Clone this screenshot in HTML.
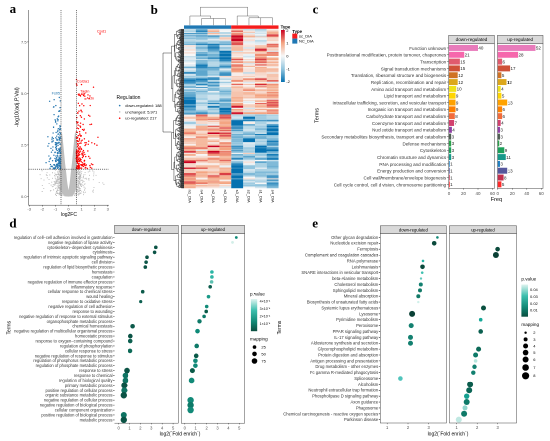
<!DOCTYPE html>
<html><head><meta charset="utf-8"><title>Figure</title>
<style>html,body{margin:0;padding:0;background:#fff}
#clip{position:relative;width:550px;height:441px;overflow:hidden;background:#fff}
#w{position:absolute;left:0;top:0;width:1100px;height:882px;transform:scale(.5);transform-origin:0 0;will-change:transform;background:#fff}
svg{display:block}</style></head><body><div id="clip"><div id="w">
<svg width="1100" height="882" viewBox="0 0 550 441" font-family="Liberation Sans, Arial, sans-serif">
<text x="9.6" y="13.2" font-family="Liberation Serif, serif" font-weight="bold" font-size="13" fill="#000">a</text>
<text x="150.6" y="14" font-family="Liberation Serif, serif" font-weight="bold" font-size="13" fill="#000">b</text>
<text x="312.6" y="13.3" font-family="Liberation Serif, serif" font-weight="bold" font-size="13" fill="#000">c</text>
<text x="9.4" y="227.3" font-family="Liberation Serif, serif" font-weight="bold" font-size="13" fill="#000">d</text>
<text x="312.3" y="227.3" font-family="Liberation Serif, serif" font-weight="bold" font-size="13" fill="#000">e</text>
<g fill="#bebebe">
<polygon points="64.57,196.4 62.61,193.31 61.3,190.22 60.38,187.13 59.85,184.04 59.59,179.92 59.59,175.8 60.12,169.62 60.51,163.44 60.64,155.2 60.64,146.96 60.77,138.72 61.16,132.54 61.95,132.54 62.74,138.72 63.52,146.96 64.31,155.2 65.09,163.44 65.88,169.62 66.53,175.8 66.93,179.92 67.45,184.04 67.98,187.13 68.5,190.22 68.5,193.31 68.5,196.4"/>
<polygon points="72.43,196.4 74.39,193.31 75.7,190.22 76.62,187.13 77.15,184.04 77.41,179.92 77.41,175.8 76.88,169.62 76.49,163.44 76.36,155.2 76.36,146.96 76.23,138.72 75.84,132.54 75.05,132.54 74.26,138.72 73.48,146.96 72.69,155.2 71.91,163.44 71.12,169.62 70.47,175.8 70.07,179.92 69.55,184.04 69.02,187.13 68.5,190.22 68.5,193.31 68.5,196.4"/>
<ellipse cx="68.5" cy="193.6" rx="5" ry="3"/>
<path d="M59.65 187.03h.9v.9h-.9zM59.17 174.22h.9v.9h-.9zM58.49 185.95h.9v.9h-.9zM75.54 193.16h.9v.9h-.9zM61.82 193.57h.9v.9h-.9zM59.33 180.81h.9v.9h-.9zM57.03 179.13h.9v.9h-.9zM58.71 170.23h.9v.9h-.9zM59.27 181.04h.9v.9h-.9zM76.37 192.34h.9v.9h-.9zM56.67 180.94h.9v.9h-.9zM59.17 190.53h.9v.9h-.9zM56 181.27h.9v.9h-.9zM78.81 182.59h.9v.9h-.9zM80.09 175.36h.9v.9h-.9zM58.91 187.65h.9v.9h-.9zM57.47 177.37h.9v.9h-.9zM78.43 182.62h.9v.9h-.9zM78.28 176.59h.9v.9h-.9zM59.03 182.19h.9v.9h-.9zM56.84 175.87h.9v.9h-.9zM58.81 170.6h.9v.9h-.9zM78.83 175.68h.9v.9h-.9zM79.5 182.58h.9v.9h-.9zM59.72 193.6h.9v.9h-.9zM58.48 178.27h.9v.9h-.9zM82.88 176.54h.9v.9h-.9zM84.53 174.21h.9v.9h-.9zM80.58 176.92h.9v.9h-.9zM61.19 191.04h.9v.9h-.9zM59.59 182.66h.9v.9h-.9zM77.58 188.99h.9v.9h-.9zM79.82 171.76h.9v.9h-.9zM58.15 181.22h.9v.9h-.9zM79.57 174.27h.9v.9h-.9zM85.55 177.79h.9v.9h-.9zM58.59 170.71h.9v.9h-.9zM58.77 178.41h.9v.9h-.9zM59.76 182.88h.9v.9h-.9zM77.31 184.58h.9v.9h-.9zM81.63 179.67h.9v.9h-.9zM58.45 182.1h.9v.9h-.9zM79.49 183.61h.9v.9h-.9zM78.94 182.97h.9v.9h-.9zM59.8 193.77h.9v.9h-.9zM61.98 192.54h.9v.9h-.9zM55.52 192.73h.9v.9h-.9zM57.99 179.57h.9v.9h-.9zM78.47 172.86h.9v.9h-.9zM78.51 186.42h.9v.9h-.9zM54.5 183.16h.9v.9h-.9zM84.58 183.37h.9v.9h-.9zM58.33 187.34h.9v.9h-.9zM59.22 188.55h.9v.9h-.9zM56.36 182.07h.9v.9h-.9zM60.81 191.59h.9v.9h-.9zM83.11 175.85h.9v.9h-.9zM78.18 177.44h.9v.9h-.9zM58.46 182.02h.9v.9h-.9zM78.92 181.42h.9v.9h-.9zM57.76 178.98h.9v.9h-.9zM54.6 176.32h.9v.9h-.9zM76.13 190.22h.9v.9h-.9zM74.09 194.65h.9v.9h-.9zM57.25 183.21h.9v.9h-.9zM83.91 183.85h.9v.9h-.9zM78.15 170.78h.9v.9h-.9zM77.84 183.27h.9v.9h-.9zM57.1 190.11h.9v.9h-.9zM59.14 174.78h.9v.9h-.9zM55.51 173.88h.9v.9h-.9zM80.11 176.05h.9v.9h-.9zM77.76 172.48h.9v.9h-.9zM79.83 174.75h.9v.9h-.9zM59.54 183.44h.9v.9h-.9zM60.35 192.1h.9v.9h-.9zM77.96 180.16h.9v.9h-.9zM78.78 174.09h.9v.9h-.9zM79.43 178.45h.9v.9h-.9zM60.55 194.82h.9v.9h-.9zM54.37 181.81h.9v.9h-.9zM57.38 174.1h.9v.9h-.9zM62.89 194.65h.9v.9h-.9zM79.45 180.27h.9v.9h-.9zM55.3 181.35h.9v.9h-.9zM78.87 172.25h.9v.9h-.9zM56.3 174.07h.9v.9h-.9zM74.09 194.89h.9v.9h-.9zM59.36 175.37h.9v.9h-.9zM60.31 191.72h.9v.9h-.9zM78.8 181.04h.9v.9h-.9zM56.55 182.95h.9v.9h-.9zM59.84 172.63h.9v.9h-.9zM79.7 175.48h.9v.9h-.9zM55.94 180.91h.9v.9h-.9zM58.36 182.35h.9v.9h-.9zM82.63 177.53h.9v.9h-.9zM59.48 182.3h.9v.9h-.9zM82.8 177.37h.9v.9h-.9zM78.56 190.15h.9v.9h-.9zM60.02 191.84h.9v.9h-.9zM78.98 178.09h.9v.9h-.9zM75.58 193.49h.9v.9h-.9zM81.21 191.39h.9v.9h-.9zM59.93 191.69h.9v.9h-.9zM77.4 170.84h.9v.9h-.9zM54.43 172.58h.9v.9h-.9zM75.63 191.21h.9v.9h-.9zM77.91 169.77h.9v.9h-.9zM78.22 187.17h.9v.9h-.9zM73.92 194.87h.9v.9h-.9zM76.87 186.83h.9v.9h-.9zM54.84 182.18h.9v.9h-.9zM56.87 189.48h.9v.9h-.9zM79.29 193.21h.9v.9h-.9zM59.52 188.41h.9v.9h-.9zM80.25 174.26h.9v.9h-.9zM79.26 182.11h.9v.9h-.9zM58.65 177.33h.9v.9h-.9zM56.4 190.65h.9v.9h-.9zM57.33 188.45h.9v.9h-.9zM58.69 193.21h.9v.9h-.9zM60.31 193.65h.9v.9h-.9zM78.08 181.13h.9v.9h-.9zM57.5 179.36h.9v.9h-.9zM61.93 192.55h.9v.9h-.9zM60.08 188.63h.9v.9h-.9zM58.11 187.52h.9v.9h-.9zM59.94 187.9h.9v.9h-.9zM54.95 169.76h.9v.9h-.9zM61.51 194.97h.9v.9h-.9zM77.35 183.86h.9v.9h-.9zM79.84 178.46h.9v.9h-.9zM60.72 189.83h.9v.9h-.9zM58.08 186.55h.9v.9h-.9zM61.52 193.97h.9v.9h-.9zM74.2 195h.9v.9h-.9zM77.82 178.24h.9v.9h-.9zM80.77 172.95h.9v.9h-.9zM60.6 194.21h.9v.9h-.9zM77.98 191.31h.9v.9h-.9zM76.72 186.9h.9v.9h-.9zM76.41 189.08h.9v.9h-.9zM58.52 186.74h.9v.9h-.9zM59.74 183.15h.9v.9h-.9zM57.5 193.03h.9v.9h-.9zM60 191.67h.9v.9h-.9zM58.09 179.16h.9v.9h-.9zM57.11 180.29h.9v.9h-.9zM80.97 172.73h.9v.9h-.9zM80.13 175.69h.9v.9h-.9zM55.86 178.81h.9v.9h-.9zM77.8 174.13h.9v.9h-.9zM56.71 191.78h.9v.9h-.9zM59.01 174.09h.9v.9h-.9zM59.16 178.96h.9v.9h-.9zM80.65 185.67h.9v.9h-.9zM58.14 179.24h.9v.9h-.9zM58.71 182.77h.9v.9h-.9zM59.68 171.36h.9v.9h-.9zM59.5 178.39h.9v.9h-.9zM80.57 174.53h.9v.9h-.9zM60.52 189.32h.9v.9h-.9zM81.32 183.52h.9v.9h-.9zM74.77 193.39h.9v.9h-.9zM55.62 178.82h.9v.9h-.9zM77.53 179.93h.9v.9h-.9zM55.75 187.53h.9v.9h-.9zM56.01 195.05h.9v.9h-.9zM61.7 192.81h.9v.9h-.9zM78.01 177.97h.9v.9h-.9zM57.53 183.37h.9v.9h-.9zM59.64 169.79h.9v.9h-.9zM78.33 183.19h.9v.9h-.9zM80.03 183.55h.9v.9h-.9zM59.83 171.77h.9v.9h-.9zM60.48 193.45h.9v.9h-.9zM57.28 170.84h.9v.9h-.9zM80.81 179.83h.9v.9h-.9zM78.88 189.41h.9v.9h-.9zM56.7 185.22h.9v.9h-.9zM77.24 183.76h.9v.9h-.9zM78.81 176.65h.9v.9h-.9zM57.68 173.73h.9v.9h-.9zM77.42 187.01h.9v.9h-.9zM58.72 171.52h.9v.9h-.9zM77.12 172.15h.9v.9h-.9zM59.02 185.32h.9v.9h-.9zM77 186.08h.9v.9h-.9zM55.03 188.14h.9v.9h-.9zM78.33 173.88h.9v.9h-.9zM78.17 170.37h.9v.9h-.9zM59 182.21h.9v.9h-.9zM54.91 184.36h.9v.9h-.9zM83.16 174.46h.9v.9h-.9zM56.13 181.23h.9v.9h-.9zM78.48 194.1h.9v.9h-.9zM78.87 178.77h.9v.9h-.9zM58.35 182.87h.9v.9h-.9zM78.95 188.12h.9v.9h-.9zM79.18 176.34h.9v.9h-.9zM78.4 182.93h.9v.9h-.9zM59.15 192.29h.9v.9h-.9zM58.16 174.47h.9v.9h-.9zM80.32 183.71h.9v.9h-.9zM61.88 191.78h.9v.9h-.9zM60.27 189.08h.9v.9h-.9zM77.06 189.21h.9v.9h-.9zM56.06 174.53h.9v.9h-.9zM80.15 184.74h.9v.9h-.9zM57.72 176.16h.9v.9h-.9zM75.93 193.77h.9v.9h-.9zM79.76 180.58h.9v.9h-.9zM57.17 179.16h.9v.9h-.9zM59.36 192.99h.9v.9h-.9zM79.86 184.25h.9v.9h-.9zM57.67 173.52h.9v.9h-.9zM79.57 175.7h.9v.9h-.9zM79.83 170.44h.9v.9h-.9zM77.05 171.5h.9v.9h-.9zM59.63 170.33h.9v.9h-.9zM59.81 191.45h.9v.9h-.9zM81.31 171.13h.9v.9h-.9zM61.35 195.33h.9v.9h-.9zM59.55 189.38h.9v.9h-.9zM76.86 192.07h.9v.9h-.9zM77.74 181.77h.9v.9h-.9zM61.43 193.56h.9v.9h-.9zM60.05 185.38h.9v.9h-.9zM77.44 181.53h.9v.9h-.9zM79.98 188.2h.9v.9h-.9zM55.08 183.13h.9v.9h-.9zM55.31 181.28h.9v.9h-.9zM59.37 187.45h.9v.9h-.9zM77.45 190.37h.9v.9h-.9zM78.09 184.44h.9v.9h-.9zM59.56 189.53h.9v.9h-.9zM81.13 186.04h.9v.9h-.9zM75.92 190.27h.9v.9h-.9zM57.85 190.09h.9v.9h-.9zM60.2 187.34h.9v.9h-.9zM79.43 175.79h.9v.9h-.9zM79.44 192.56h.9v.9h-.9zM55.86 182.88h.9v.9h-.9zM59.15 170.94h.9v.9h-.9zM63.07 194.76h.9v.9h-.9zM58.69 184.67h.9v.9h-.9zM80.29 177.04h.9v.9h-.9zM57.25 176.5h.9v.9h-.9zM76.62 190.59h.9v.9h-.9zM78.04 194.55h.9v.9h-.9zM52.77 183.98h.9v.9h-.9zM75.76 195.3h.9v.9h-.9zM58.4 172.58h.9v.9h-.9zM78.23 185.58h.9v.9h-.9zM76.65 194.1h.9v.9h-.9zM76.62 190.33h.9v.9h-.9zM57.32 172.27h.9v.9h-.9zM57.73 179.1h.9v.9h-.9zM58.7 194.32h.9v.9h-.9z" fill="#bdbdbd"/>
<path d="M58.7 192.79h.9v.9h-.9zM89.39 170.76h.9v.9h-.9zM88.53 179.62h.9v.9h-.9zM54.17 175.15h.9v.9h-.9zM89.09 174.82h.9v.9h-.9zM56.06 191.06h.9v.9h-.9zM98.75 182.07h.9v.9h-.9zM51.27 181.69h.9v.9h-.9zM79.82 178.28h.9v.9h-.9zM84.98 191.74h.9v.9h-.9zM76.53 189.19h.9v.9h-.9zM103.46 183.93h.9v.9h-.9zM41.73 191.05h.9v.9h-.9zM46.63 175.06h.9v.9h-.9zM78.66 188.06h.9v.9h-.9zM84.51 178.28h.9v.9h-.9zM82.69 185.1h.9v.9h-.9zM50.45 189.95h.9v.9h-.9zM54.85 177.91h.9v.9h-.9zM55.11 194.18h.9v.9h-.9zM52.84 185.7h.9v.9h-.9zM39.67 174.2h.9v.9h-.9zM57.88 174.1h.9v.9h-.9zM83.53 192.41h.9v.9h-.9zM49.95 190.52h.9v.9h-.9zM57.68 187.64h.9v.9h-.9zM56.65 193.07h.9v.9h-.9zM78.59 175.92h.9v.9h-.9zM59.46 193.89h.9v.9h-.9zM50.66 184.68h.9v.9h-.9zM81.56 184.33h.9v.9h-.9zM83 191.53h.9v.9h-.9zM77.76 185.32h.9v.9h-.9zM54.89 174.4h.9v.9h-.9zM78.83 171.42h.9v.9h-.9zM79.18 190.34h.9v.9h-.9zM80.26 190.09h.9v.9h-.9zM58.05 173.64h.9v.9h-.9zM78.22 193.26h.9v.9h-.9zM86.21 178.61h.9v.9h-.9zM79.17 177.33h.9v.9h-.9zM52.08 172.31h.9v.9h-.9zM48.57 178.99h.9v.9h-.9zM82.48 180.36h.9v.9h-.9zM75.58 193.31h.9v.9h-.9zM92.18 190.65h.9v.9h-.9zM79.24 172.49h.9v.9h-.9zM52.14 177.83h.9v.9h-.9zM57.38 186.33h.9v.9h-.9zM77.72 173.35h.9v.9h-.9zM59.44 188.18h.9v.9h-.9zM58.07 184.72h.9v.9h-.9zM79.97 189.92h.9v.9h-.9zM83.1 194.25h.9v.9h-.9zM78.97 179.05h.9v.9h-.9zM45.87 174.3h.9v.9h-.9zM79.76 184.44h.9v.9h-.9zM49.34 174.51h.9v.9h-.9zM78.53 191.12h.9v.9h-.9zM40.7 178.2h.9v.9h-.9zM77.22 187.22h.9v.9h-.9zM46.87 177.38h.9v.9h-.9zM92.88 179.25h.9v.9h-.9zM60.42 188.11h.9v.9h-.9zM84.65 171.97h.9v.9h-.9zM102.31 182.47h.9v.9h-.9zM53.19 189.42h.9v.9h-.9zM79.12 187.46h.9v.9h-.9zM51.89 186.24h.9v.9h-.9zM84.73 187.81h.9v.9h-.9zM93.2 175.35h.9v.9h-.9zM48.67 183.14h.9v.9h-.9zM43.33 188.11h.9v.9h-.9zM59.57 185.16h.9v.9h-.9zM77.35 190.73h.9v.9h-.9zM83.62 186.68h.9v.9h-.9zM89.14 170.46h.9v.9h-.9zM46.61 172.2h.9v.9h-.9zM59.23 187.15h.9v.9h-.9zM57.67 178.87h.9v.9h-.9zM74.66 193.16h.9v.9h-.9zM83.54 181.14h.9v.9h-.9zM92.25 170.43h.9v.9h-.9zM80.42 192.95h.9v.9h-.9zM43.52 179.64h.9v.9h-.9zM55.81 180.04h.9v.9h-.9zM59.05 182.16h.9v.9h-.9zM84.09 189.75h.9v.9h-.9zM92.79 191.75h.9v.9h-.9zM56.69 181.53h.9v.9h-.9zM53.72 184.08h.9v.9h-.9zM53.76 181.03h.9v.9h-.9zM41.86 185.07h.9v.9h-.9zM79.7 192.35h.9v.9h-.9zM88.46 178.14h.9v.9h-.9zM88.23 178.42h.9v.9h-.9zM87.8 171.47h.9v.9h-.9zM57.01 177.55h.9v.9h-.9zM41.61 170.31h.9v.9h-.9zM93.51 187.03h.9v.9h-.9zM56.45 192.23h.9v.9h-.9zM82.22 181.8h.9v.9h-.9zM93.37 173.53h.9v.9h-.9zM84.21 189.33h.9v.9h-.9zM92.98 189.6h.9v.9h-.9zM58.21 184.73h.9v.9h-.9zM93.48 171.56h.9v.9h-.9zM95.59 174.83h.9v.9h-.9zM53.97 184.66h.9v.9h-.9zM59.86 190.1h.9v.9h-.9z" fill="#b4b4b4"/>
</g>
<g fill="#2878b0"><circle cx="60.22" cy="168.35" r=".7"/><circle cx="59.92" cy="144.16" r=".7"/><circle cx="60.51" cy="138.14" r=".7"/><circle cx="56.9" cy="165.37" r=".7"/><circle cx="60.39" cy="168.09" r=".7"/><circle cx="53.71" cy="167.98" r=".7"/><circle cx="59.68" cy="132.27" r=".7"/><circle cx="56.33" cy="149.55" r=".7"/><circle cx="54.06" cy="114.67" r=".7"/><circle cx="58.6" cy="137.22" r=".7"/><circle cx="59.8" cy="161.92" r=".7"/><circle cx="50.02" cy="168.32" r=".7"/><circle cx="53.87" cy="106.88" r=".7"/><circle cx="55.64" cy="166.85" r=".7"/><circle cx="58" cy="143.45" r=".7"/><circle cx="54.95" cy="165.54" r=".7"/><circle cx="59.21" cy="142.44" r=".7"/><circle cx="59.5" cy="158.64" r=".7"/><circle cx="50.6" cy="158.08" r=".7"/><circle cx="55.54" cy="167.93" r=".7"/><circle cx="53.56" cy="107.11" r=".7"/><circle cx="58.03" cy="145.48" r=".7"/><circle cx="55.54" cy="160.47" r=".7"/><circle cx="60.5" cy="129.14" r=".7"/><circle cx="60.23" cy="150.38" r=".7"/><circle cx="60.45" cy="152.91" r=".7"/><circle cx="55.64" cy="147.71" r=".7"/><circle cx="56.81" cy="123.91" r=".7"/><circle cx="58.51" cy="160.49" r=".7"/><circle cx="59.3" cy="150.12" r=".7"/><circle cx="60.4" cy="133.46" r=".7"/><circle cx="60.26" cy="158.2" r=".7"/><circle cx="53.35" cy="138.61" r=".7"/><circle cx="47.97" cy="146.09" r=".7"/><circle cx="57.25" cy="150.57" r=".7"/><circle cx="54.5" cy="164.75" r=".7"/><circle cx="59.32" cy="97.49" r=".7"/><circle cx="50.47" cy="164.54" r=".7"/><circle cx="57.73" cy="131.72" r=".7"/><circle cx="60.2" cy="147.99" r=".7"/><circle cx="60.26" cy="159.02" r=".7"/><circle cx="49.64" cy="101.28" r=".7"/><circle cx="58.3" cy="134" r=".7"/><circle cx="58.73" cy="142.48" r=".7"/><circle cx="58.55" cy="159.91" r=".7"/><circle cx="59.9" cy="148.93" r=".7"/><circle cx="48.9" cy="143.55" r=".7"/><circle cx="57.38" cy="165.71" r=".7"/><circle cx="56.77" cy="139.11" r=".7"/><circle cx="57.53" cy="168.32" r=".7"/><circle cx="52.67" cy="150.22" r=".7"/><circle cx="57.52" cy="153.8" r=".7"/><circle cx="58.31" cy="159.15" r=".7"/><circle cx="59.4" cy="139.13" r=".7"/><circle cx="59.14" cy="162.44" r=".7"/><circle cx="55.76" cy="142.71" r=".7"/><circle cx="59.42" cy="150.96" r=".7"/><circle cx="53.12" cy="133.02" r=".7"/><circle cx="55.43" cy="144.47" r=".7"/><circle cx="56.74" cy="136.14" r=".7"/><circle cx="59.62" cy="158.17" r=".7"/><circle cx="49.16" cy="161.5" r=".7"/><circle cx="56.73" cy="164.58" r=".7"/><circle cx="60.04" cy="163.61" r=".7"/><circle cx="59.33" cy="165.07" r=".7"/><circle cx="59.45" cy="160.12" r=".7"/><circle cx="51.9" cy="166.23" r=".7"/><circle cx="52.59" cy="160.72" r=".7"/><circle cx="60.59" cy="153.15" r=".7"/><circle cx="58.02" cy="119.6" r=".7"/><circle cx="46.08" cy="162.73" r=".7"/><circle cx="60.56" cy="160.16" r=".7"/><circle cx="55.68" cy="161.55" r=".7"/><circle cx="59.66" cy="169.07" r=".7"/><circle cx="55.13" cy="119.86" r=".7"/><circle cx="56.46" cy="146.41" r=".7"/><circle cx="55.64" cy="121.04" r=".7"/><circle cx="52.01" cy="141.99" r=".7"/><circle cx="57.06" cy="142.78" r=".7"/><circle cx="59.9" cy="162.52" r=".7"/><circle cx="58.59" cy="165.79" r=".7"/><circle cx="56.17" cy="161.46" r=".7"/><circle cx="59.32" cy="111.24" r=".7"/><circle cx="55.88" cy="156.05" r=".7"/><circle cx="53.76" cy="164.83" r=".7"/><circle cx="60.56" cy="152.23" r=".7"/><circle cx="57.29" cy="118.85" r=".7"/><circle cx="52.14" cy="141.34" r=".7"/><circle cx="58.76" cy="111.3" r=".7"/><circle cx="54.31" cy="168.93" r=".7"/><circle cx="60.1" cy="107.72" r=".7"/><circle cx="59.73" cy="161.76" r=".7"/><circle cx="47.9" cy="136.77" r=".7"/><circle cx="59.07" cy="163.47" r=".7"/><circle cx="57.87" cy="120.84" r=".7"/><circle cx="58.27" cy="163.3" r=".7"/><circle cx="55.05" cy="168.79" r=".7"/><circle cx="59.05" cy="157.31" r=".7"/><circle cx="58.04" cy="134.31" r=".7"/><circle cx="58.01" cy="163.98" r=".7"/><circle cx="54.14" cy="99.72" r=".7"/><circle cx="56.53" cy="144.7" r=".7"/><circle cx="58.86" cy="161.72" r=".7"/><circle cx="60.36" cy="167.57" r=".7"/><circle cx="55.83" cy="105.6" r=".7"/><circle cx="57.05" cy="140.28" r=".7"/><circle cx="59.34" cy="166.23" r=".7"/><circle cx="48.92" cy="156.03" r=".7"/><circle cx="59.94" cy="153.24" r=".7"/><circle cx="60.29" cy="100.94" r=".7"/><circle cx="59.7" cy="127.97" r=".7"/><circle cx="55.42" cy="142.74" r=".7"/><circle cx="59.94" cy="125.81" r=".7"/><circle cx="53.31" cy="140.97" r=".7"/><circle cx="58.3" cy="128.37" r=".7"/><circle cx="56.13" cy="132.47" r=".7"/><circle cx="57.88" cy="130.24" r=".7"/><circle cx="59.5" cy="129.8" r=".7"/><circle cx="55.77" cy="137.84" r=".7"/><circle cx="57.91" cy="139.96" r=".7"/><circle cx="53.56" cy="127.06" r=".7"/><circle cx="56.62" cy="157.8" r=".7"/><circle cx="58.15" cy="159.27" r=".7"/><circle cx="60.28" cy="144.06" r=".7"/><circle cx="59.85" cy="110.67" r=".7"/><circle cx="58.82" cy="159.91" r=".7"/><circle cx="57.65" cy="166.91" r=".7"/><circle cx="49.91" cy="159.1" r=".7"/><circle cx="58.97" cy="149.73" r=".7"/><circle cx="56.35" cy="146.72" r=".7"/><circle cx="60.37" cy="163.15" r=".7"/><circle cx="57.15" cy="160.28" r=".7"/><circle cx="52.93" cy="146.96" r=".7"/><circle cx="58.44" cy="163.92" r=".7"/><circle cx="59.62" cy="129.64" r=".7"/><circle cx="57.72" cy="155.95" r=".7"/><circle cx="55.93" cy="144.99" r=".7"/><circle cx="52.3" cy="166.77" r=".7"/><circle cx="56.62" cy="148.73" r=".7"/><circle cx="58.09" cy="160.13" r=".7"/><circle cx="60.34" cy="163.04" r=".7"/><circle cx="55.62" cy="122.13" r=".7"/><circle cx="60.18" cy="166" r=".7"/><circle cx="53.91" cy="155.22" r=".7"/><circle cx="57.47" cy="152.7" r=".7"/><circle cx="51.45" cy="152.15" r=".7"/><circle cx="59.46" cy="138.17" r=".7"/><circle cx="57.31" cy="164.58" r=".7"/><circle cx="59.9" cy="135.05" r=".7"/><circle cx="56.18" cy="159.25" r=".7"/><circle cx="59.26" cy="151.48" r=".7"/><circle cx="58.49" cy="153.06" r=".7"/><circle cx="59.82" cy="140.19" r=".7"/><circle cx="56.71" cy="157.7" r=".7"/><circle cx="60.47" cy="168.67" r=".7"/><circle cx="60.2" cy="126.63" r=".7"/><circle cx="55.12" cy="152.16" r=".7"/><circle cx="59.77" cy="165.19" r=".7"/><circle cx="60.12" cy="155.38" r=".7"/><circle cx="56.77" cy="166.65" r=".7"/><circle cx="54.96" cy="158.46" r=".7"/><circle cx="50.97" cy="148.41" r=".7"/><circle cx="59.08" cy="160.6" r=".7"/><circle cx="60.44" cy="161.75" r=".7"/><circle cx="59" cy="160.42" r=".7"/><circle cx="59.05" cy="151.68" r=".7"/><circle cx="58.68" cy="116.08" r=".7"/><circle cx="58.16" cy="163.35" r=".7"/><circle cx="59.87" cy="165.98" r=".7"/><circle cx="60.07" cy="137.05" r=".7"/><circle cx="57.56" cy="156.1" r=".7"/><circle cx="57.38" cy="155.79" r=".7"/><circle cx="60.2" cy="156.12" r=".7"/><circle cx="54.48" cy="167.98" r=".7"/><circle cx="54.99" cy="152.61" r=".7"/><circle cx="58.15" cy="167.61" r=".7"/><circle cx="58.77" cy="149.01" r=".7"/><circle cx="56.57" cy="165.11" r=".7"/><circle cx="51.93" cy="139.12" r=".7"/><circle cx="60.5" cy="166.98" r=".7"/><circle cx="56.64" cy="143.35" r=".7"/><circle cx="56.67" cy="164.29" r=".7"/><circle cx="58.11" cy="116.83" r=".7"/><circle cx="51.04" cy="166.48" r=".7"/><circle cx="53.34" cy="168.86" r=".7"/><circle cx="59.3" cy="165.36" r=".7"/><circle cx="52.3" cy="137.32" r=".7"/><circle cx="60.51" cy="163.95" r=".7"/></g>
<g fill="#f00"><circle cx="79.99" cy="168.61" r=".7"/><circle cx="88.26" cy="144.31" r=".7"/><circle cx="79.87" cy="149.35" r=".7"/><circle cx="84.36" cy="118.98" r=".7"/><circle cx="81.91" cy="153.44" r=".7"/><circle cx="76.68" cy="154.25" r=".7"/><circle cx="80.88" cy="136.35" r=".7"/><circle cx="77.2" cy="138.15" r=".7"/><circle cx="80.52" cy="126.84" r=".7"/><circle cx="79.16" cy="166.71" r=".7"/><circle cx="81.98" cy="104" r=".7"/><circle cx="76.4" cy="153.15" r=".7"/><circle cx="97.95" cy="137.29" r=".7"/><circle cx="77.72" cy="112.82" r=".7"/><circle cx="79.18" cy="165.48" r=".7"/><circle cx="80.17" cy="159.92" r=".7"/><circle cx="82.76" cy="151.93" r=".7"/><circle cx="79.04" cy="95.34" r=".7"/><circle cx="82.49" cy="129.54" r=".7"/><circle cx="82.66" cy="164.7" r=".7"/><circle cx="80.06" cy="159.2" r=".7"/><circle cx="81.62" cy="149.33" r=".7"/><circle cx="90.23" cy="105.55" r=".7"/><circle cx="76.5" cy="167.65" r=".7"/><circle cx="85.75" cy="167.41" r=".7"/><circle cx="81.21" cy="135.74" r=".7"/><circle cx="78.09" cy="155" r=".7"/><circle cx="91.82" cy="142.77" r=".7"/><circle cx="81.45" cy="117.26" r=".7"/><circle cx="89.91" cy="158.24" r=".7"/><circle cx="79.61" cy="131.68" r=".7"/><circle cx="91.43" cy="163.96" r=".7"/><circle cx="89.92" cy="165.63" r=".7"/><circle cx="83.55" cy="164.04" r=".7"/><circle cx="83.47" cy="150.52" r=".7"/><circle cx="77.85" cy="151.82" r=".7"/><circle cx="78.47" cy="128.67" r=".7"/><circle cx="80.77" cy="159.74" r=".7"/><circle cx="84.41" cy="138.85" r=".7"/><circle cx="86.31" cy="142.79" r=".7"/><circle cx="76.44" cy="131.9" r=".7"/><circle cx="84.28" cy="164.48" r=".7"/><circle cx="94.58" cy="143.87" r=".7"/><circle cx="78.57" cy="161.06" r=".7"/><circle cx="83.17" cy="155.6" r=".7"/><circle cx="79.06" cy="161.51" r=".7"/><circle cx="78.31" cy="135.57" r=".7"/><circle cx="77.13" cy="160.21" r=".7"/><circle cx="84.81" cy="96.15" r=".7"/><circle cx="78.15" cy="125.13" r=".7"/><circle cx="86.15" cy="164.84" r=".7"/><circle cx="92.76" cy="164.62" r=".7"/><circle cx="80.56" cy="123.18" r=".7"/><circle cx="79.99" cy="125.93" r=".7"/><circle cx="80.08" cy="147.15" r=".7"/><circle cx="78.64" cy="150.08" r=".7"/><circle cx="83.11" cy="124.51" r=".7"/><circle cx="76.63" cy="158.53" r=".7"/><circle cx="82.07" cy="154.69" r=".7"/><circle cx="81.58" cy="94.12" r=".7"/><circle cx="78.47" cy="168.94" r=".7"/><circle cx="80.05" cy="146.78" r=".7"/><circle cx="76.66" cy="156.56" r=".7"/><circle cx="79.77" cy="154.56" r=".7"/><circle cx="84.45" cy="160.54" r=".7"/><circle cx="79.58" cy="158.04" r=".7"/><circle cx="77.43" cy="162.71" r=".7"/><circle cx="83.56" cy="166.42" r=".7"/><circle cx="80.27" cy="159.34" r=".7"/><circle cx="83.32" cy="156.39" r=".7"/><circle cx="77.92" cy="113.13" r=".7"/><circle cx="80.36" cy="95.41" r=".7"/><circle cx="78.94" cy="111.16" r=".7"/><circle cx="76.76" cy="151.25" r=".7"/><circle cx="76.5" cy="158.26" r=".7"/><circle cx="80.59" cy="159.71" r=".7"/><circle cx="77.37" cy="166.36" r=".7"/><circle cx="81" cy="110.2" r=".7"/><circle cx="77.53" cy="143.72" r=".7"/><circle cx="78.3" cy="94.31" r=".7"/><circle cx="78.96" cy="166.26" r=".7"/><circle cx="80.94" cy="143.27" r=".7"/><circle cx="84.56" cy="165.16" r=".7"/><circle cx="76.49" cy="155.5" r=".7"/><circle cx="78.37" cy="168.19" r=".7"/><circle cx="79.74" cy="133.94" r=".7"/><circle cx="88.66" cy="115.33" r=".7"/><circle cx="82.01" cy="111.89" r=".7"/><circle cx="83.56" cy="95.58" r=".7"/><circle cx="78.04" cy="166.49" r=".7"/><circle cx="76.78" cy="161.55" r=".7"/><circle cx="80.5" cy="96.04" r=".7"/><circle cx="84.8" cy="163.39" r=".7"/><circle cx="77.6" cy="155.84" r=".7"/><circle cx="77.32" cy="132.42" r=".7"/><circle cx="93.51" cy="87.23" r=".7"/><circle cx="79.88" cy="167.45" r=".7"/><circle cx="87.3" cy="168.4" r=".7"/><circle cx="79.61" cy="160.61" r=".7"/><circle cx="83.74" cy="130.41" r=".7"/><circle cx="76.86" cy="150.16" r=".7"/><circle cx="76.39" cy="158.18" r=".7"/><circle cx="82.52" cy="162.81" r=".7"/><circle cx="79.2" cy="143.51" r=".7"/><circle cx="79.52" cy="138.72" r=".7"/><circle cx="78.64" cy="155.81" r=".7"/><circle cx="78.56" cy="155.65" r=".7"/><circle cx="84.08" cy="152.41" r=".7"/><circle cx="89.32" cy="98.35" r=".7"/><circle cx="87.85" cy="151.01" r=".7"/><circle cx="77.27" cy="122.96" r=".7"/><circle cx="76.8" cy="117.62" r=".7"/><circle cx="78.66" cy="141.4" r=".7"/><circle cx="84.15" cy="129.33" r=".7"/><circle cx="79.23" cy="94.14" r=".7"/><circle cx="76.7" cy="168.57" r=".7"/><circle cx="77.58" cy="157.98" r=".7"/><circle cx="78.37" cy="165.66" r=".7"/><circle cx="82.46" cy="157.57" r=".7"/><circle cx="79.03" cy="163.48" r=".7"/><circle cx="79.63" cy="105.73" r=".7"/><circle cx="78.76" cy="164.54" r=".7"/><circle cx="76.48" cy="161.04" r=".7"/><circle cx="78.06" cy="144.8" r=".7"/><circle cx="77.97" cy="122.19" r=".7"/><circle cx="79.04" cy="165.87" r=".7"/><circle cx="77.15" cy="150.21" r=".7"/><circle cx="81.11" cy="148.43" r=".7"/><circle cx="90.03" cy="124.53" r=".7"/><circle cx="85.07" cy="145.53" r=".7"/><circle cx="82.56" cy="165.55" r=".7"/><circle cx="77.78" cy="152.89" r=".7"/><circle cx="77.58" cy="161.34" r=".7"/><circle cx="78.85" cy="154.95" r=".7"/><circle cx="84.29" cy="164.1" r=".7"/><circle cx="80.88" cy="164.71" r=".7"/><circle cx="79.68" cy="152.38" r=".7"/><circle cx="79.15" cy="148.59" r=".7"/><circle cx="91.53" cy="124.26" r=".7"/><circle cx="78.39" cy="159.48" r=".7"/><circle cx="78.65" cy="168.01" r=".7"/><circle cx="77.26" cy="159.86" r=".7"/><circle cx="80.38" cy="115.74" r=".7"/><circle cx="77.23" cy="161.65" r=".7"/><circle cx="84.99" cy="142.74" r=".7"/><circle cx="83.79" cy="105.73" r=".7"/><circle cx="77.36" cy="127.9" r=".7"/><circle cx="81.26" cy="164.96" r=".7"/><circle cx="77.41" cy="140.65" r=".7"/><circle cx="76.41" cy="158.59" r=".7"/><circle cx="80.06" cy="135.22" r=".7"/><circle cx="89.86" cy="116.16" r=".7"/><circle cx="78.4" cy="148.13" r=".7"/><circle cx="80.98" cy="159.66" r=".7"/><circle cx="76.94" cy="85.22" r=".7"/><circle cx="83.05" cy="154.01" r=".7"/><circle cx="81.2" cy="165.08" r=".7"/><circle cx="80.09" cy="160.98" r=".7"/><circle cx="81.64" cy="168.13" r=".7"/><circle cx="85.83" cy="144.54" r=".7"/><circle cx="88.73" cy="156.51" r=".7"/><circle cx="78.29" cy="167.07" r=".7"/><circle cx="84.34" cy="161.11" r=".7"/><circle cx="85.13" cy="98.94" r=".7"/><circle cx="81.13" cy="110.79" r=".7"/><circle cx="78.33" cy="103.36" r=".7"/><circle cx="82.14" cy="165.92" r=".7"/><circle cx="76.48" cy="152.15" r=".7"/><circle cx="77.13" cy="122.14" r=".7"/><circle cx="76.78" cy="161.16" r=".7"/><circle cx="77.26" cy="141.37" r=".7"/><circle cx="80.05" cy="158.43" r=".7"/><circle cx="76.48" cy="79.54" r=".7"/><circle cx="84.29" cy="94" r=".7"/><circle cx="84.56" cy="160.47" r=".7"/><circle cx="79.44" cy="140" r=".7"/><circle cx="79" cy="161.36" r=".7"/><circle cx="76.81" cy="156.75" r=".7"/><circle cx="77.78" cy="163.52" r=".7"/><circle cx="80.51" cy="151.18" r=".7"/><circle cx="76.97" cy="127.87" r=".7"/><circle cx="85.88" cy="165.47" r=".7"/><circle cx="77.6" cy="146.71" r=".7"/><circle cx="81.32" cy="161.78" r=".7"/><circle cx="78.74" cy="151.33" r=".7"/><circle cx="76.47" cy="83.83" r=".7"/><circle cx="82.21" cy="140.14" r=".7"/><circle cx="80.87" cy="142.99" r=".7"/><circle cx="91.7" cy="168.14" r=".7"/><circle cx="78.33" cy="167.67" r=".7"/><circle cx="84.82" cy="154.44" r=".7"/><circle cx="85.79" cy="132.95" r=".7"/><circle cx="96.94" cy="145.24" r=".7"/><circle cx="78.7" cy="158.06" r=".7"/><circle cx="78.26" cy="145.46" r=".7"/><circle cx="81.41" cy="164.64" r=".7"/><circle cx="85.75" cy="156.63" r=".7"/><circle cx="76.42" cy="137.83" r=".7"/><circle cx="77.27" cy="165.88" r=".7"/><circle cx="77.38" cy="157.9" r=".7"/><circle cx="77.64" cy="137.31" r=".7"/><circle cx="78.72" cy="153.46" r=".7"/><circle cx="76.58" cy="151.77" r=".7"/><circle cx="85.1" cy="168.02" r=".7"/><circle cx="88.66" cy="141.23" r=".7"/><circle cx="81.23" cy="141.04" r=".7"/><circle cx="76.55" cy="121.86" r=".7"/><circle cx="76.93" cy="166.15" r=".7"/><circle cx="77.53" cy="168.81" r=".7"/><circle cx="76.88" cy="168.05" r=".7"/><circle cx="77.2" cy="156.89" r=".7"/><circle cx="90.33" cy="167.41" r=".7"/><circle cx="89.96" cy="95.98" r=".7"/><circle cx="100" cy="34" r=".7"/><circle cx="81.5" cy="84.6" r=".7"/><circle cx="83" cy="94.2" r=".7"/><circle cx="88" cy="94.9" r=".7"/></g>
<text x="101.5" y="32.5" font-size="3.9" text-anchor="middle" fill="#f00" >Cpd1</text>
<text x="83" y="82.6" font-size="3.9" text-anchor="middle" fill="#f00" >Col3a1</text>
<text x="84.8" y="92.4" font-size="3.9" text-anchor="middle" fill="#f00" >Tagln</text>
<text x="90.2" y="99.7" font-size="3.9" text-anchor="middle" fill="#f00" >Actn</text>
<text x="55.8" y="94.6" font-size="3.9" text-anchor="middle" fill="#2878b0" >Fstl5</text>
<path d="M61 10V205M76.3 10V205M28.5 169.2H108.7" stroke="#222" stroke-width=".6" stroke-dasharray="1.1 1" fill="none"/>
<path d="M28.5 10V205.2H108.9" stroke="#333" stroke-width=".5" fill="none"/>
<text x="29.2" y="210.7" font-size="4" text-anchor="middle" fill="#4d4d4d" >-3</text>
<text x="42.3" y="210.7" font-size="4" text-anchor="middle" fill="#4d4d4d" >-2</text>
<text x="55.4" y="210.7" font-size="4" text-anchor="middle" fill="#4d4d4d" >-1</text>
<text x="68.5" y="210.7" font-size="4" text-anchor="middle" fill="#4d4d4d" >0</text>
<text x="81.6" y="210.7" font-size="4" text-anchor="middle" fill="#4d4d4d" >1</text>
<text x="94.7" y="210.7" font-size="4" text-anchor="middle" fill="#4d4d4d" >2</text>
<text x="107.8" y="210.7" font-size="4" text-anchor="middle" fill="#4d4d4d" >3</text>
<text x="26.6" y="197.8" font-size="4" text-anchor="end" fill="#4d4d4d" >0.0</text>
<text x="26.6" y="146.3" font-size="4" text-anchor="end" fill="#4d4d4d" >2.5</text>
<text x="26.6" y="94.8" font-size="4" text-anchor="end" fill="#4d4d4d" >5.0</text>
<text x="26.6" y="43.3" font-size="4" text-anchor="end" fill="#4d4d4d" >7.5</text>
<path d="M29.2 205.2v1.3M42.3 205.2v1.3M55.4 205.2v1.3M68.5 205.2v1.3M81.6 205.2v1.3M94.7 205.2v1.3M107.8 205.2v1.3M28.5 196.4h-1.3M28.5 144.9h-1.3M28.5 93.4h-1.3M28.5 41.9h-1.3" stroke="#333" stroke-width=".5"/>
<text x="68.9" y="216.2" font-size="5" text-anchor="middle" fill="#000" >log2FC</text>
<text transform="translate(18.6 107.2) rotate(-90)" font-size="5.5" text-anchor="middle" fill="#000">-log10(adj.P.Val)</text>
<text x="116.5" y="99" font-size="5" text-anchor="start" fill="#000" >Regulation</text>
<circle cx="119.7" cy="105.6" r=".8" fill="#2878b0"/>
<text x="125.2" y="107" font-size="4" text-anchor="start" fill="#000" >down-regulated: 188</text>
<circle cx="119.7" cy="111.9" r=".8" fill="#bebebe"/>
<text x="125.2" y="113.3" font-size="4" text-anchor="start" fill="#000" >unchanged: 5,971</text>
<circle cx="119.7" cy="118.2" r=".8" fill="#f00"/>
<text x="125.2" y="119.6" font-size="4" text-anchor="start" fill="#000" >up-regulated: 217</text>
<path fill="#c4deea" d="M184 29h11.86v1.55h-11.86zM243.06 29h11.86v1.55h-11.86zM184 34.2h11.86v1.35h-11.86zM254.88 41.2h11.86v1.15h-11.86zM184 55.9h11.86v1.55h-11.86zM195.81 58.9h11.86v1.35h-11.86zM184 65.7h11.86v1.15h-11.86zM207.62 92h11.86v1.35h-11.86zM219.44 96.6h11.86v1.85h-11.86zM195.81 99.7h11.86v0.95h-11.86zM207.62 104.1h11.86v1.85h-11.86zM195.81 109h11.86v1.15h-11.86zM207.62 111.4h11.86v0.95h-11.86zM195.81 124.1h11.86v1.55h-11.86zM243.06 128.6h11.86v1.15h-11.86zM254.88 132.5h11.86v1.55h-11.86zM243.06 135.1h11.86v1.35h-11.86zM243.06 144.3h11.86v1.35h-11.86zM254.88 155.8h11.86v1.85h-11.86zM266.69 159.8h11.86v1.55h-11.86zM254.88 176.5h11.86v1.85h-11.86z"/>
<path fill="#6fb0d2" d="M195.81 29h11.86v1.55h-11.86zM184 37.3h11.86v1.55h-11.86zM219.44 41.2h11.86v1.15h-11.86zM184 43.8h11.86v1.35h-11.86zM207.62 50.8h11.86v1.15h-11.86zM195.81 51.9h11.86v1.85h-11.86zM207.62 53.7h11.86v2.25h-11.86zM195.81 57.4h11.86v1.55h-11.86zM219.44 64.2h11.86v1.55h-11.86zM184 66.8h11.86v1.55h-11.86zM195.81 68.3h11.86v2.25h-11.86zM207.62 68.3h11.86v2.25h-11.86zM195.81 83.1h11.86v0.95h-11.86zM184 87.1h11.86v0.95h-11.86zM184 92h11.86v1.35h-11.86zM184 93.3h11.86v1.15h-11.86zM219.44 93.3h11.86v1.15h-11.86zM219.44 98.4h11.86v1.35h-11.86zM219.44 100.6h11.86v1.55h-11.86zM219.44 103h11.86v1.15h-11.86zM219.44 104.1h11.86v1.85h-11.86zM231.25 128.6h11.86v1.15h-11.86zM231.25 134h11.86v1.15h-11.86zM243.06 134h11.86v1.15h-11.86zM231.25 136.4h11.86v1.85h-11.86zM254.88 136.4h11.86v1.85h-11.86zM231.25 139.1h11.86v1.55h-11.86zM266.69 139.1h11.86v1.55h-11.86zM231.25 154h11.86v1.85h-11.86zM266.69 165.3h11.86v2.25h-11.86zM254.88 175.2h11.86v1.35h-11.86z"/>
<path fill="#f6d8cb" d="M207.62 29h11.86v1.55h-11.86zM243.06 34.2h11.86v1.35h-11.86zM266.69 37.3h11.86v1.55h-11.86zM219.44 38.8h11.86v1.55h-11.86zM266.69 38.8h11.86v1.55h-11.86zM243.06 40.3h11.86v0.95h-11.86zM266.69 47.3h11.86v1.35h-11.86zM243.06 48.6h11.86v2.25h-11.86zM243.06 58.9h11.86v1.35h-11.86zM231.25 60.2h11.86v1.15h-11.86zM254.88 63.1h11.86v1.15h-11.86zM266.69 63.1h11.86v1.15h-11.86zM266.69 65.7h11.86v1.15h-11.86zM254.88 72.3h11.86v1.35h-11.86zM254.88 73.6h11.86v2.25h-11.86zM219.44 75.8h11.86v1.55h-11.86zM231.25 77.3h11.86v0.95h-11.86zM254.88 91.1h11.86v0.95h-11.86zM254.88 92h11.86v1.35h-11.86zM243.06 109h11.86v1.15h-11.86zM243.06 110.1h11.86v1.35h-11.86zM254.88 111.4h11.86v0.95h-11.86zM207.62 120.1h11.86v0.95h-11.86zM195.81 121h11.86v0.95h-11.86zM195.81 121.9h11.86v2.25h-11.86zM219.44 139.1h11.86v1.55h-11.86zM195.81 161.3h11.86v1.85h-11.86zM184 163.1h11.86v2.25h-11.86zM184 165.3h11.86v2.25h-11.86zM195.81 169h11.86v2.25h-11.86zM207.62 169h11.86v2.25h-11.86zM219.44 184.9h11.86v1.55h-11.86z"/>
<path fill="#eaf1f4" d="M219.44 29h11.86v1.55h-11.86zM184 32h11.86v0.95h-11.86zM243.06 37.3h11.86v1.55h-11.86zM254.88 37.3h11.86v1.55h-11.86zM254.88 38.8h11.86v1.55h-11.86zM243.06 42.3h11.86v1.55h-11.86zM254.88 43.8h11.86v1.35h-11.86zM243.06 53.7h11.86v2.25h-11.86zM243.06 60.2h11.86v1.15h-11.86zM184 61.3h11.86v1.85h-11.86zM266.69 72.3h11.86v1.35h-11.86zM219.44 80h11.86v1.85h-11.86zM219.44 85.1h11.86v1.15h-11.86zM243.06 100.6h11.86v1.55h-11.86zM243.06 114.1h11.86v0.35h-11.86zM207.62 124.1h11.86v1.55h-11.86zM184 127.1h11.86v1.55h-11.86zM231.25 152.7h11.86v1.35h-11.86zM243.06 163.1h11.86v2.25h-11.86zM219.44 165.3h11.86v2.25h-11.86z"/>
<path fill="#f6cebc" d="M231.25 29h11.86v1.55h-11.86zM231.25 32h11.86v0.95h-11.86zM266.69 40.3h11.86v0.95h-11.86zM266.69 48.6h11.86v2.25h-11.86zM231.25 51.9h11.86v1.85h-11.86zM243.06 51.9h11.86v1.85h-11.86zM254.88 51.9h11.86v1.85h-11.86zM231.25 75.8h11.86v1.55h-11.86zM243.06 75.8h11.86v1.55h-11.86zM254.88 77.3h11.86v0.95h-11.86zM266.69 77.3h11.86v0.95h-11.86zM231.25 78.2h11.86v1.85h-11.86zM266.69 78.2h11.86v1.85h-11.86zM243.06 80h11.86v1.85h-11.86zM266.69 83.1h11.86v0.95h-11.86zM243.06 87.1h11.86v0.95h-11.86zM231.25 88h11.86v1.35h-11.86zM231.25 89.3h11.86v1.85h-11.86zM243.06 94.4h11.86v2.25h-11.86zM243.06 99.7h11.86v0.95h-11.86zM243.06 104.1h11.86v1.85h-11.86zM243.06 105.9h11.86v1.85h-11.86zM219.44 131.2h11.86v1.35h-11.86zM195.81 132.5h11.86v1.55h-11.86zM184 135.1h11.86v1.35h-11.86zM195.81 135.1h11.86v1.35h-11.86zM207.62 136.4h11.86v1.85h-11.86zM207.62 139.1h11.86v1.55h-11.86zM184 142.1h11.86v2.25h-11.86zM207.62 147.1h11.86v1.85h-11.86zM195.81 148.9h11.86v1.15h-11.86zM219.44 150h11.86v0.95h-11.86zM243.06 152.7h11.86v1.35h-11.86zM219.44 163.1h11.86v2.25h-11.86zM207.62 167.5h11.86v1.55h-11.86zM184 169h11.86v2.25h-11.86zM184 171.2h11.86v1.85h-11.86zM207.62 173h11.86v2.25h-11.86zM195.81 176.5h11.86v1.85h-11.86zM207.62 184h11.86v0.95h-11.86z"/>
<path fill="#abd2e4" d="M254.88 29h11.86v1.55h-11.86zM184 30.5h11.86v1.55h-11.86zM195.81 34.2h11.86v1.35h-11.86zM207.62 40.3h11.86v0.95h-11.86zM254.88 40.3h11.86v0.95h-11.86zM207.62 42.3h11.86v1.55h-11.86zM207.62 64.2h11.86v1.55h-11.86zM195.81 75.8h11.86v1.55h-11.86zM184 77.3h11.86v0.95h-11.86zM184 85.1h11.86v1.15h-11.86zM195.81 85.1h11.86v1.15h-11.86zM207.62 87.1h11.86v0.95h-11.86zM219.44 87.1h11.86v0.95h-11.86zM219.44 94.4h11.86v2.25h-11.86zM219.44 102.1h11.86v0.95h-11.86zM207.62 107.7h11.86v1.35h-11.86zM207.62 110.1h11.86v1.35h-11.86zM207.62 114.1h11.86v0.35h-11.86zM243.06 114.4h11.86v2.25h-11.86zM266.69 114.4h11.86v2.25h-11.86zM254.88 121.9h11.86v2.25h-11.86zM243.06 127.1h11.86v1.55h-11.86zM254.88 129.7h11.86v1.55h-11.86zM254.88 131.2h11.86v1.35h-11.86zM266.69 145.6h11.86v1.55h-11.86zM243.06 148.9h11.86v1.15h-11.86zM243.06 150h11.86v0.95h-11.86zM254.88 152.7h11.86v1.35h-11.86zM243.06 154h11.86v1.85h-11.86zM254.88 163.1h11.86v2.25h-11.86zM254.88 165.3h11.86v2.25h-11.86zM254.88 169h11.86v2.25h-11.86zM266.69 169h11.86v2.25h-11.86zM243.06 179.4h11.86v1.85h-11.86zM243.06 184h11.86v0.95h-11.86z"/>
<path fill="#f7ede8" d="M266.69 29h11.86v1.55h-11.86zM207.62 34.2h11.86v1.35h-11.86zM219.44 34.2h11.86v1.35h-11.86zM266.69 41.2h11.86v1.15h-11.86zM266.69 42.3h11.86v1.55h-11.86zM243.06 43.8h11.86v1.35h-11.86zM243.06 50.8h11.86v1.15h-11.86zM231.25 55.9h11.86v1.55h-11.86zM231.25 63.1h11.86v1.15h-11.86zM243.06 66.8h11.86v1.55h-11.86zM266.69 66.8h11.86v1.55h-11.86zM231.25 72.3h11.86v1.35h-11.86zM231.25 73.6h11.86v2.25h-11.86zM243.06 77.3h11.86v0.95h-11.86zM231.25 81.8h11.86v1.35h-11.86zM254.88 81.8h11.86v1.35h-11.86zM243.06 83.1h11.86v0.95h-11.86zM231.25 85.1h11.86v1.15h-11.86zM219.44 86.2h11.86v0.95h-11.86zM254.88 88h11.86v1.35h-11.86zM254.88 102.1h11.86v0.95h-11.86zM231.25 107.7h11.86v1.35h-11.86zM266.69 107.7h11.86v1.35h-11.86zM266.69 114.1h11.86v0.35h-11.86zM184 114.4h11.86v2.25h-11.86zM184 118.8h11.86v1.35h-11.86zM243.06 121.9h11.86v2.25h-11.86zM184 125.6h11.86v1.55h-11.86zM184 136.4h11.86v1.85h-11.86zM219.44 140.6h11.86v1.55h-11.86zM184 155.8h11.86v1.85h-11.86zM195.81 163.1h11.86v2.25h-11.86zM207.62 163.1h11.86v2.25h-11.86zM219.44 179.4h11.86v1.85h-11.86zM219.44 184h11.86v0.95h-11.86z"/>
<path fill="#2886bc" d="M195.81 30.5h11.86v1.55h-11.86zM184 35.5h11.86v0.95h-11.86zM195.81 35.5h11.86v0.95h-11.86zM195.81 43.8h11.86v1.35h-11.86zM219.44 58.9h11.86v1.35h-11.86zM195.81 66.8h11.86v1.55h-11.86zM219.44 72.3h11.86v1.35h-11.86zM195.81 84h11.86v1.15h-11.86zM207.62 85.1h11.86v1.15h-11.86zM184 96.6h11.86v1.85h-11.86zM219.44 99.7h11.86v0.95h-11.86zM207.62 103h11.86v1.15h-11.86zM266.69 127.1h11.86v1.55h-11.86zM266.69 144.3h11.86v1.35h-11.86zM266.69 148.9h11.86v1.15h-11.86zM231.25 157.6h11.86v2.25h-11.86zM231.25 163.1h11.86v2.25h-11.86zM231.25 167.5h11.86v1.55h-11.86z"/>
<path fill="#f4af91" d="M207.62 30.5h11.86v1.55h-11.86zM266.69 32h11.86v0.95h-11.86zM266.69 32.9h11.86v1.35h-11.86zM266.69 36.4h11.86v0.95h-11.86zM231.25 47.3h11.86v1.35h-11.86zM254.88 47.3h11.86v1.35h-11.86zM254.88 50.8h11.86v1.15h-11.86zM266.69 57.4h11.86v1.55h-11.86zM266.69 61.3h11.86v1.85h-11.86zM266.69 64.2h11.86v1.55h-11.86zM243.06 65.7h11.86v1.15h-11.86zM254.88 66.8h11.86v1.55h-11.86zM266.69 86.2h11.86v0.95h-11.86zM231.25 87.1h11.86v0.95h-11.86zM266.69 87.1h11.86v0.95h-11.86zM266.69 89.3h11.86v1.85h-11.86zM243.06 93.3h11.86v1.15h-11.86zM231.25 96.6h11.86v1.85h-11.86zM254.88 96.6h11.86v1.85h-11.86zM266.69 96.6h11.86v1.85h-11.86zM254.88 105.9h11.86v1.85h-11.86zM254.88 109h11.86v1.15h-11.86zM266.69 109h11.86v1.15h-11.86zM207.62 116.6h11.86v2.25h-11.86zM219.44 120.1h11.86v0.95h-11.86zM219.44 121h11.86v0.95h-11.86zM219.44 124.1h11.86v1.55h-11.86zM195.81 125.6h11.86v1.55h-11.86zM195.81 127.1h11.86v1.55h-11.86zM219.44 136.4h11.86v1.85h-11.86zM184 139.1h11.86v1.55h-11.86zM207.62 140.6h11.86v1.55h-11.86zM195.81 144.3h11.86v1.35h-11.86zM184 148.9h11.86v1.15h-11.86zM195.81 150.9h11.86v1.85h-11.86zM184 154h11.86v1.85h-11.86zM219.44 157.6h11.86v2.25h-11.86zM219.44 167.5h11.86v1.55h-11.86zM219.44 175.2h11.86v1.35h-11.86zM184 176.5h11.86v1.85h-11.86zM219.44 176.5h11.86v1.85h-11.86zM184 179.4h11.86v1.85h-11.86zM195.81 179.4h11.86v1.85h-11.86zM207.62 179.4h11.86v1.85h-11.86zM219.44 181.2h11.86v1.35h-11.86zM184 186.4h11.86v1.85h-11.86z"/>
<path fill="#f7f7f7" d="M219.44 30.5h11.86v1.55h-11.86zM254.88 34.2h11.86v1.35h-11.86zM219.44 36.4h11.86v0.95h-11.86zM184 50.8h11.86v1.15h-11.86zM184 53.7h11.86v2.25h-11.86zM266.69 55.9h11.86v1.55h-11.86zM243.06 57.4h11.86v1.55h-11.86zM184 63.1h11.86v1.15h-11.86zM243.06 85.1h11.86v1.15h-11.86zM207.62 91.1h11.86v0.95h-11.86zM243.06 98.4h11.86v1.35h-11.86zM254.88 98.4h11.86v1.35h-11.86zM243.06 103h11.86v1.15h-11.86zM207.62 138.2h11.86v0.95h-11.86zM184 144.3h11.86v1.35h-11.86zM195.81 154h11.86v1.85h-11.86zM254.88 159.8h11.86v1.55h-11.86zM243.06 176.5h11.86v1.85h-11.86zM195.81 178.3h11.86v1.15h-11.86zM254.88 182.5h11.86v1.55h-11.86zM243.06 186.4h11.86v1.85h-11.86z"/>
<path fill="#e4675d" d="M231.25 30.5h11.86v1.55h-11.86zM231.25 34.2h11.86v1.35h-11.86zM266.69 43.8h11.86v1.35h-11.86zM254.88 61.3h11.86v1.85h-11.86zM254.88 64.2h11.86v1.55h-11.86zM266.69 80h11.86v1.85h-11.86zM231.25 84h11.86v1.15h-11.86zM254.88 86.2h11.86v0.95h-11.86zM254.88 103h11.86v1.15h-11.86zM195.81 114.4h11.86v2.25h-11.86zM219.44 114.4h11.86v2.25h-11.86zM207.62 125.6h11.86v1.55h-11.86zM219.44 129.7h11.86v1.55h-11.86zM184 159.8h11.86v1.55h-11.86zM219.44 159.8h11.86v1.55h-11.86zM195.81 167.5h11.86v1.55h-11.86zM184 175.2h11.86v1.35h-11.86zM184 182.5h11.86v1.55h-11.86z"/>
<path fill="#f6e2da" d="M243.06 30.5h11.86v1.55h-11.86zM243.06 38.8h11.86v1.55h-11.86zM184 45.1h11.86v2.25h-11.86zM243.06 45.1h11.86v2.25h-11.86zM184 48.6h11.86v2.25h-11.86zM184 51.9h11.86v1.85h-11.86zM231.25 53.7h11.86v2.25h-11.86zM266.69 60.2h11.86v1.15h-11.86zM243.06 64.2h11.86v1.55h-11.86zM254.88 65.7h11.86v1.15h-11.86zM243.06 68.3h11.86v2.25h-11.86zM243.06 70.5h11.86v1.85h-11.86zM243.06 73.6h11.86v2.25h-11.86zM254.88 75.8h11.86v1.55h-11.86zM243.06 86.2h11.86v0.95h-11.86zM243.06 91.1h11.86v0.95h-11.86zM266.69 98.4h11.86v1.35h-11.86zM231.25 102.1h11.86v0.95h-11.86zM254.88 107.7h11.86v1.35h-11.86zM254.88 110.1h11.86v1.35h-11.86zM254.88 114.1h11.86v0.35h-11.86zM207.62 114.4h11.86v2.25h-11.86zM184 120.1h11.86v0.95h-11.86zM207.62 121.9h11.86v2.25h-11.86zM195.81 131.2h11.86v1.35h-11.86zM207.62 142.1h11.86v2.25h-11.86zM184 152.7h11.86v1.35h-11.86zM195.81 155.8h11.86v1.85h-11.86zM207.62 155.8h11.86v1.85h-11.86zM243.06 161.3h11.86v1.85h-11.86zM243.06 178.3h11.86v1.15h-11.86zM266.69 178.3h11.86v1.15h-11.86zM195.81 184h11.86v0.95h-11.86zM195.81 186.4h11.86v1.85h-11.86zM207.62 186.4h11.86v1.85h-11.86z"/>
<path fill="#d1e4ee" d="M254.88 30.5h11.86v1.55h-11.86zM254.88 32.9h11.86v1.35h-11.86zM195.81 40.3h11.86v0.95h-11.86zM219.44 40.3h11.86v0.95h-11.86zM219.44 45.1h11.86v2.25h-11.86zM243.06 47.3h11.86v1.35h-11.86zM231.25 50.8h11.86v1.15h-11.86zM243.06 55.9h11.86v1.55h-11.86zM243.06 63.1h11.86v1.15h-11.86zM184 73.6h11.86v2.25h-11.86zM207.62 94.4h11.86v2.25h-11.86zM207.62 96.6h11.86v1.85h-11.86zM207.62 98.4h11.86v1.35h-11.86zM195.81 100.6h11.86v1.55h-11.86zM195.81 105.9h11.86v1.85h-11.86zM195.81 107.7h11.86v1.35h-11.86zM243.06 107.7h11.86v1.35h-11.86zM243.06 111.4h11.86v0.95h-11.86zM231.25 116.6h11.86v2.25h-11.86zM266.69 121.9h11.86v2.25h-11.86zM243.06 129.7h11.86v1.55h-11.86zM243.06 145.6h11.86v1.55h-11.86zM231.25 159.8h11.86v1.55h-11.86zM243.06 169h11.86v2.25h-11.86zM243.06 181.2h11.86v1.35h-11.86zM254.88 186.4h11.86v1.85h-11.86z"/>
<path fill="#f5c4ae" d="M266.69 30.5h11.86v1.55h-11.86zM243.06 32h11.86v0.95h-11.86zM243.06 35.5h11.86v0.95h-11.86zM254.88 36.4h11.86v0.95h-11.86zM219.44 37.3h11.86v1.55h-11.86zM231.25 45.1h11.86v2.25h-11.86zM254.88 45.1h11.86v2.25h-11.86zM243.06 61.3h11.86v1.85h-11.86zM266.69 70.5h11.86v1.85h-11.86zM266.69 73.6h11.86v2.25h-11.86zM266.69 75.8h11.86v1.55h-11.86zM231.25 83.1h11.86v0.95h-11.86zM243.06 84h11.86v1.15h-11.86zM254.88 85.1h11.86v1.15h-11.86zM254.88 87.1h11.86v0.95h-11.86zM243.06 88h11.86v1.35h-11.86zM266.69 88h11.86v1.35h-11.86zM231.25 91.1h11.86v0.95h-11.86zM266.69 91.1h11.86v0.95h-11.86zM231.25 92h11.86v1.35h-11.86zM231.25 93.3h11.86v1.15h-11.86zM254.88 93.3h11.86v1.15h-11.86zM231.25 94.4h11.86v2.25h-11.86zM243.06 96.6h11.86v1.85h-11.86zM254.88 99.7h11.86v0.95h-11.86zM231.25 111.4h11.86v0.95h-11.86zM266.69 111.4h11.86v0.95h-11.86zM184 116.6h11.86v2.25h-11.86zM207.62 121h11.86v0.95h-11.86zM207.62 127.1h11.86v1.55h-11.86zM207.62 131.2h11.86v1.35h-11.86zM207.62 134h11.86v1.15h-11.86zM184 140.6h11.86v1.55h-11.86zM207.62 144.3h11.86v1.35h-11.86zM207.62 148.9h11.86v1.15h-11.86zM184 157.6h11.86v2.25h-11.86zM195.81 157.6h11.86v2.25h-11.86zM207.62 159.8h11.86v1.55h-11.86zM207.62 161.3h11.86v1.85h-11.86zM207.62 184.9h11.86v1.55h-11.86z"/>
<path fill="#92c5de" d="M195.81 32h11.86v0.95h-11.86zM207.62 37.3h11.86v1.55h-11.86zM184 41.2h11.86v1.15h-11.86zM207.62 41.2h11.86v1.15h-11.86zM184 42.3h11.86v1.55h-11.86zM207.62 51.9h11.86v1.85h-11.86zM195.81 55.9h11.86v1.55h-11.86zM219.44 61.3h11.86v1.85h-11.86zM219.44 70.5h11.86v1.85h-11.86zM207.62 73.6h11.86v2.25h-11.86zM219.44 89.3h11.86v1.85h-11.86zM219.44 92h11.86v1.35h-11.86zM207.62 93.3h11.86v1.15h-11.86zM195.81 98.4h11.86v1.35h-11.86zM207.62 102.1h11.86v0.95h-11.86zM195.81 103h11.86v1.15h-11.86zM207.62 109h11.86v1.15h-11.86zM195.81 110.1h11.86v1.35h-11.86zM254.88 114.4h11.86v2.25h-11.86zM231.25 118.8h11.86v1.35h-11.86zM254.88 121h11.86v0.95h-11.86zM266.69 121h11.86v0.95h-11.86zM254.88 127.1h11.86v1.55h-11.86zM266.69 135.1h11.86v1.35h-11.86zM231.25 142.1h11.86v2.25h-11.86zM254.88 144.3h11.86v1.35h-11.86zM266.69 152.7h11.86v1.35h-11.86zM254.88 154h11.86v1.85h-11.86zM243.06 157.6h11.86v2.25h-11.86zM243.06 165.3h11.86v2.25h-11.86zM243.06 167.5h11.86v1.55h-11.86zM266.69 167.5h11.86v1.55h-11.86zM254.88 173h11.86v2.25h-11.86zM243.06 184.9h11.86v1.55h-11.86zM254.88 184.9h11.86v1.55h-11.86z"/>
<path fill="#b8d8e7" d="M207.62 32h11.86v0.95h-11.86zM219.44 32h11.86v0.95h-11.86zM219.44 32.9h11.86v1.35h-11.86zM254.88 35.5h11.86v0.95h-11.86zM184 38.8h11.86v1.55h-11.86zM184 40.3h11.86v0.95h-11.86zM219.44 48.6h11.86v2.25h-11.86zM195.81 50.8h11.86v1.15h-11.86zM184 60.2h11.86v1.15h-11.86zM207.62 61.3h11.86v1.85h-11.86zM207.62 63.1h11.86v1.15h-11.86zM184 70.5h11.86v1.85h-11.86zM243.06 72.3h11.86v1.35h-11.86zM219.44 78.2h11.86v1.85h-11.86zM207.62 80h11.86v1.85h-11.86zM219.44 88h11.86v1.35h-11.86zM195.81 94.4h11.86v2.25h-11.86zM195.81 96.6h11.86v1.85h-11.86zM195.81 104.1h11.86v1.85h-11.86zM231.25 114.4h11.86v2.25h-11.86zM266.69 116.6h11.86v2.25h-11.86zM243.06 121h11.86v0.95h-11.86zM254.88 124.1h11.86v1.55h-11.86zM243.06 125.6h11.86v1.55h-11.86zM231.25 132.5h11.86v1.55h-11.86zM254.88 139.1h11.86v1.55h-11.86zM254.88 142.1h11.86v2.25h-11.86zM243.06 171.2h11.86v1.85h-11.86zM254.88 179.4h11.86v1.85h-11.86z"/>
<path fill="#deeaf1" d="M254.88 32h11.86v0.95h-11.86zM243.06 32.9h11.86v1.35h-11.86zM184 36.4h11.86v0.95h-11.86zM207.62 38.8h11.86v1.55h-11.86zM243.06 41.2h11.86v1.15h-11.86zM254.88 42.3h11.86v1.55h-11.86zM184 47.3h11.86v1.35h-11.86zM266.69 50.8h11.86v1.15h-11.86zM184 57.4h11.86v1.55h-11.86zM184 58.9h11.86v1.35h-11.86zM184 64.2h11.86v1.55h-11.86zM184 68.3h11.86v2.25h-11.86zM219.44 68.3h11.86v2.25h-11.86zM207.62 75.8h11.86v1.55h-11.86zM219.44 77.3h11.86v0.95h-11.86zM243.06 81.8h11.86v1.35h-11.86zM266.69 81.8h11.86v1.35h-11.86zM219.44 83.1h11.86v0.95h-11.86zM219.44 84h11.86v1.15h-11.86zM195.81 86.2h11.86v0.95h-11.86zM184 88h11.86v1.35h-11.86zM195.81 88h11.86v1.35h-11.86zM243.06 102.1h11.86v0.95h-11.86zM184 121h11.86v0.95h-11.86zM184 124.1h11.86v1.55h-11.86zM243.06 142.1h11.86v2.25h-11.86zM195.81 150h11.86v0.95h-11.86zM243.06 159.8h11.86v1.55h-11.86zM254.88 167.5h11.86v1.55h-11.86zM254.88 178.3h11.86v1.15h-11.86zM219.44 186.4h11.86v1.85h-11.86z"/>
<path fill="#4c9bc7" d="M184 32.9h11.86v1.35h-11.86zM195.81 32.9h11.86v1.35h-11.86zM195.81 47.3h11.86v1.35h-11.86zM207.62 48.6h11.86v2.25h-11.86zM195.81 53.7h11.86v2.25h-11.86zM207.62 66.8h11.86v1.55h-11.86zM184 83.1h11.86v0.95h-11.86zM184 104.1h11.86v1.85h-11.86zM184 109h11.86v1.15h-11.86zM184 112.3h11.86v1.85h-11.86zM266.69 124.1h11.86v1.55h-11.86zM231.25 125.6h11.86v1.55h-11.86zM231.25 129.7h11.86v1.55h-11.86zM266.69 131.2h11.86v1.35h-11.86zM266.69 142.1h11.86v2.25h-11.86zM231.25 147.1h11.86v1.85h-11.86zM266.69 147.1h11.86v1.85h-11.86zM231.25 150h11.86v0.95h-11.86zM231.25 173h11.86v2.25h-11.86zM266.69 176.5h11.86v1.85h-11.86zM266.69 179.4h11.86v1.85h-11.86zM266.69 184h11.86v0.95h-11.86z"/>
<path fill="#f5ba9f" d="M207.62 32.9h11.86v1.35h-11.86zM231.25 48.6h11.86v2.25h-11.86zM254.88 55.9h11.86v1.55h-11.86zM231.25 57.4h11.86v1.55h-11.86zM231.25 66.8h11.86v1.55h-11.86zM254.88 68.3h11.86v2.25h-11.86zM266.69 68.3h11.86v2.25h-11.86zM254.88 70.5h11.86v1.85h-11.86zM254.88 80h11.86v1.85h-11.86zM231.25 86.2h11.86v0.95h-11.86zM254.88 89.3h11.86v1.85h-11.86zM243.06 92h11.86v1.35h-11.86zM266.69 93.3h11.86v1.15h-11.86zM231.25 98.4h11.86v1.35h-11.86zM231.25 100.6h11.86v1.55h-11.86zM254.88 100.6h11.86v1.55h-11.86zM254.88 104.1h11.86v1.85h-11.86zM231.25 110.1h11.86v1.35h-11.86zM195.81 120.1h11.86v0.95h-11.86zM184 129.7h11.86v1.55h-11.86zM195.81 129.7h11.86v1.55h-11.86zM184 134h11.86v1.15h-11.86zM195.81 134h11.86v1.15h-11.86zM195.81 138.2h11.86v0.95h-11.86zM195.81 139.1h11.86v1.55h-11.86zM195.81 140.6h11.86v1.55h-11.86zM195.81 142.1h11.86v2.25h-11.86zM219.44 144.3h11.86v1.35h-11.86zM195.81 145.6h11.86v1.55h-11.86zM184 150h11.86v0.95h-11.86zM207.62 150h11.86v0.95h-11.86zM195.81 152.7h11.86v1.35h-11.86zM219.44 155.8h11.86v1.85h-11.86zM219.44 161.3h11.86v1.85h-11.86zM195.81 165.3h11.86v2.25h-11.86zM207.62 165.3h11.86v2.25h-11.86zM219.44 169h11.86v2.25h-11.86zM207.62 171.2h11.86v1.85h-11.86zM195.81 173h11.86v2.25h-11.86zM207.62 178.3h11.86v1.15h-11.86zM207.62 182.5h11.86v1.55h-11.86zM184 184.9h11.86v1.55h-11.86zM195.81 184.9h11.86v1.55h-11.86z"/>
<path fill="#ef9076" d="M231.25 32.9h11.86v1.35h-11.86zM254.88 53.7h11.86v2.25h-11.86zM266.69 53.7h11.86v2.25h-11.86zM254.88 60.2h11.86v1.15h-11.86zM231.25 61.3h11.86v1.85h-11.86zM231.25 68.3h11.86v2.25h-11.86zM243.06 78.2h11.86v1.85h-11.86zM231.25 80h11.86v1.85h-11.86zM266.69 84h11.86v1.15h-11.86zM243.06 89.3h11.86v1.85h-11.86zM266.69 92h11.86v1.35h-11.86zM266.69 94.4h11.86v2.25h-11.86zM266.69 100.6h11.86v1.55h-11.86zM231.25 104.1h11.86v1.85h-11.86zM266.69 112.3h11.86v1.85h-11.86zM231.25 114.1h11.86v0.35h-11.86zM195.81 118.8h11.86v1.35h-11.86zM195.81 128.6h11.86v1.15h-11.86zM219.44 134h11.86v1.15h-11.86zM195.81 136.4h11.86v1.85h-11.86zM184 138.2h11.86v0.95h-11.86zM219.44 142.1h11.86v2.25h-11.86zM219.44 152.7h11.86v1.35h-11.86zM207.62 154h11.86v1.85h-11.86zM219.44 154h11.86v1.85h-11.86zM207.62 157.6h11.86v2.25h-11.86zM207.62 176.5h11.86v1.85h-11.86zM184 178.3h11.86v1.15h-11.86zM207.62 181.2h11.86v1.35h-11.86z"/>
<path fill="#df5251" d="M266.69 34.2h11.86v1.35h-11.86zM231.25 42.3h11.86v1.55h-11.86zM231.25 43.8h11.86v1.35h-11.86zM231.25 58.9h11.86v1.35h-11.86zM254.88 78.2h11.86v1.85h-11.86zM266.69 104.1h11.86v1.85h-11.86zM219.44 116.6h11.86v2.25h-11.86zM207.62 152.7h11.86v1.35h-11.86zM184 173h11.86v2.25h-11.86zM207.62 175.2h11.86v1.35h-11.86zM184 181.2h11.86v1.35h-11.86z"/>
<path fill="#177cb6" d="M207.62 35.5h11.86v0.95h-11.86zM207.62 43.8h11.86v1.35h-11.86zM219.44 51.9h11.86v1.85h-11.86zM195.81 64.2h11.86v1.55h-11.86zM195.81 65.7h11.86v1.15h-11.86zM219.44 65.7h11.86v1.15h-11.86zM195.81 78.2h11.86v1.85h-11.86zM184 80h11.86v1.85h-11.86zM184 98.4h11.86v1.35h-11.86zM184 105.9h11.86v1.85h-11.86zM207.62 105.9h11.86v1.85h-11.86zM219.44 110.1h11.86v1.35h-11.86zM266.69 120.1h11.86v0.95h-11.86zM254.88 134h11.86v1.15h-11.86zM266.69 140.6h11.86v1.55h-11.86zM254.88 147.1h11.86v1.85h-11.86zM266.69 154h11.86v1.85h-11.86zM266.69 157.6h11.86v2.25h-11.86z"/>
<path fill="#5da6cd" d="M219.44 35.5h11.86v0.95h-11.86zM195.81 42.3h11.86v1.55h-11.86zM219.44 43.8h11.86v1.35h-11.86zM195.81 60.2h11.86v1.15h-11.86zM195.81 63.1h11.86v1.15h-11.86zM219.44 66.8h11.86v1.55h-11.86zM195.81 70.5h11.86v1.85h-11.86zM195.81 72.3h11.86v1.35h-11.86zM195.81 73.6h11.86v2.25h-11.86zM184 86.2h11.86v0.95h-11.86zM195.81 91.1h11.86v0.95h-11.86zM219.44 91.1h11.86v0.95h-11.86zM184 94.4h11.86v2.25h-11.86zM184 107.7h11.86v1.35h-11.86zM184 110.1h11.86v1.35h-11.86zM243.06 118.8h11.86v1.35h-11.86zM243.06 124.1h11.86v1.55h-11.86zM254.88 128.6h11.86v1.15h-11.86zM254.88 138.2h11.86v0.95h-11.86zM266.69 138.2h11.86v0.95h-11.86zM266.69 150.9h11.86v1.85h-11.86zM243.06 155.8h11.86v1.85h-11.86zM266.69 155.8h11.86v1.85h-11.86zM254.88 157.6h11.86v2.25h-11.86zM254.88 161.3h11.86v1.85h-11.86zM231.25 178.3h11.86v1.15h-11.86zM266.69 184.9h11.86v1.55h-11.86z"/>
<path fill="#cf152c" d="M231.25 35.5h11.86v0.95h-11.86zM231.25 105.9h11.86v1.85h-11.86zM231.25 112.3h11.86v1.85h-11.86z"/>
<path fill="#da3e45" d="M266.69 35.5h11.86v0.95h-11.86zM254.88 58.9h11.86v1.35h-11.86zM266.69 99.7h11.86v0.95h-11.86zM266.69 102.1h11.86v0.95h-11.86zM219.44 127.1h11.86v1.55h-11.86zM219.44 132.5h11.86v1.55h-11.86zM219.44 135.1h11.86v1.35h-11.86zM184 150.9h11.86v1.85h-11.86zM219.44 173h11.86v2.25h-11.86z"/>
<path fill="#9fcbe1" d="M195.81 36.4h11.86v0.95h-11.86zM195.81 38.8h11.86v1.55h-11.86zM195.81 41.2h11.86v1.15h-11.86zM195.81 45.1h11.86v2.25h-11.86zM195.81 48.6h11.86v2.25h-11.86zM207.62 58.9h11.86v1.35h-11.86zM219.44 63.1h11.86v1.15h-11.86zM207.62 65.7h11.86v1.15h-11.86zM207.62 70.5h11.86v1.85h-11.86zM207.62 72.3h11.86v1.35h-11.86zM184 75.8h11.86v1.55h-11.86zM219.44 81.8h11.86v1.35h-11.86zM184 84h11.86v1.15h-11.86zM195.81 89.3h11.86v1.85h-11.86zM184 91.1h11.86v0.95h-11.86zM195.81 92h11.86v1.35h-11.86zM195.81 93.3h11.86v1.15h-11.86zM207.62 99.7h11.86v0.95h-11.86zM195.81 102.1h11.86v0.95h-11.86zM184 111.4h11.86v0.95h-11.86zM195.81 114.1h11.86v0.35h-11.86zM254.88 116.6h11.86v2.25h-11.86zM254.88 118.8h11.86v1.35h-11.86zM266.69 118.8h11.86v1.35h-11.86zM184 121.9h11.86v2.25h-11.86zM254.88 125.6h11.86v1.55h-11.86zM231.25 131.2h11.86v1.35h-11.86zM243.06 131.2h11.86v1.35h-11.86zM266.69 136.4h11.86v1.85h-11.86zM254.88 140.6h11.86v1.55h-11.86zM231.25 144.3h11.86v1.35h-11.86zM243.06 147.1h11.86v1.85h-11.86zM243.06 150.9h11.86v1.85h-11.86zM231.25 155.8h11.86v1.85h-11.86zM266.69 173h11.86v2.25h-11.86zM243.06 175.2h11.86v1.35h-11.86zM254.88 181.2h11.86v1.35h-11.86zM266.69 181.2h11.86v1.35h-11.86zM243.06 182.5h11.86v1.55h-11.86zM254.88 184h11.86v0.95h-11.86z"/>
<path fill="#80bad8" d="M207.62 36.4h11.86v0.95h-11.86zM195.81 37.3h11.86v1.55h-11.86zM219.44 42.3h11.86v1.55h-11.86zM219.44 47.3h11.86v1.35h-11.86zM207.62 55.9h11.86v1.55h-11.86zM207.62 60.2h11.86v1.15h-11.86zM195.81 61.3h11.86v1.85h-11.86zM195.81 77.3h11.86v0.95h-11.86zM195.81 81.8h11.86v1.35h-11.86zM207.62 83.1h11.86v0.95h-11.86zM207.62 84h11.86v1.15h-11.86zM207.62 86.2h11.86v0.95h-11.86zM207.62 88h11.86v1.35h-11.86zM184 89.3h11.86v1.85h-11.86zM207.62 89.3h11.86v1.85h-11.86zM207.62 100.6h11.86v1.55h-11.86zM219.44 105.9h11.86v1.85h-11.86zM195.81 111.4h11.86v0.95h-11.86zM207.62 112.3h11.86v1.85h-11.86zM243.06 132.5h11.86v1.55h-11.86zM231.25 135.1h11.86v1.35h-11.86zM254.88 135.1h11.86v1.35h-11.86zM243.06 136.4h11.86v1.85h-11.86zM231.25 138.2h11.86v0.95h-11.86zM231.25 140.6h11.86v1.55h-11.86zM231.25 148.9h11.86v1.15h-11.86zM231.25 150.9h11.86v1.85h-11.86zM231.25 161.3h11.86v1.85h-11.86zM266.69 161.3h11.86v1.85h-11.86zM266.69 163.1h11.86v2.25h-11.86zM254.88 171.2h11.86v1.85h-11.86zM266.69 171.2h11.86v1.85h-11.86zM243.06 173h11.86v2.25h-11.86zM266.69 186.4h11.86v1.85h-11.86z"/>
<path fill="#ca0020" d="M231.25 36.4h11.86v0.95h-11.86zM231.25 38.8h11.86v1.55h-11.86zM231.25 40.3h11.86v0.95h-11.86zM207.62 132.5h11.86v1.55h-11.86zM207.62 145.6h11.86v1.55h-11.86zM207.62 150.9h11.86v1.85h-11.86zM184 161.3h11.86v1.85h-11.86z"/>
<path fill="#f4a582" d="M243.06 36.4h11.86v0.95h-11.86zM266.69 58.9h11.86v1.35h-11.86zM231.25 70.5h11.86v1.85h-11.86zM254.88 83.1h11.86v0.95h-11.86zM266.69 85.1h11.86v1.15h-11.86zM254.88 94.4h11.86v2.25h-11.86zM231.25 99.7h11.86v0.95h-11.86zM231.25 103h11.86v1.15h-11.86zM231.25 109h11.86v1.15h-11.86zM243.06 112.3h11.86v1.85h-11.86zM254.88 112.3h11.86v1.85h-11.86zM195.81 116.6h11.86v2.25h-11.86zM219.44 118.8h11.86v1.35h-11.86zM219.44 121.9h11.86v2.25h-11.86zM219.44 125.6h11.86v1.55h-11.86zM184 128.6h11.86v1.15h-11.86zM219.44 128.6h11.86v1.15h-11.86zM207.62 129.7h11.86v1.55h-11.86zM184 131.2h11.86v1.35h-11.86zM207.62 135.1h11.86v1.35h-11.86zM219.44 138.2h11.86v0.95h-11.86zM184 145.6h11.86v1.55h-11.86zM219.44 147.1h11.86v1.85h-11.86zM219.44 148.9h11.86v1.15h-11.86zM195.81 171.2h11.86v1.85h-11.86zM219.44 171.2h11.86v1.85h-11.86zM195.81 175.2h11.86v1.35h-11.86zM219.44 178.3h11.86v1.15h-11.86zM195.81 181.2h11.86v1.35h-11.86zM219.44 182.5h11.86v1.55h-11.86zM184 184h11.86v0.95h-11.86z"/>
<path fill="#d42938" d="M231.25 37.3h11.86v1.55h-11.86zM254.88 48.6h11.86v2.25h-11.86zM254.88 84h11.86v1.15h-11.86zM184 167.5h11.86v1.55h-11.86z"/>
<path fill="#ea7c6a" d="M231.25 41.2h11.86v1.15h-11.86zM266.69 45.1h11.86v2.25h-11.86zM266.69 51.9h11.86v1.85h-11.86zM254.88 57.4h11.86v1.55h-11.86zM231.25 64.2h11.86v1.55h-11.86zM231.25 65.7h11.86v1.15h-11.86zM266.69 103h11.86v1.15h-11.86zM266.69 105.9h11.86v1.85h-11.86zM266.69 110.1h11.86v1.35h-11.86zM207.62 118.8h11.86v1.35h-11.86zM207.62 128.6h11.86v1.15h-11.86zM184 132.5h11.86v1.55h-11.86zM219.44 145.6h11.86v1.55h-11.86zM184 147.1h11.86v1.85h-11.86zM195.81 147.1h11.86v1.85h-11.86zM219.44 150.9h11.86v1.85h-11.86zM195.81 159.8h11.86v1.55h-11.86zM195.81 182.5h11.86v1.55h-11.86z"/>
<path fill="#3a90c1" d="M207.62 45.1h11.86v2.25h-11.86zM219.44 55.9h11.86v1.55h-11.86zM207.62 57.4h11.86v1.55h-11.86zM219.44 73.6h11.86v2.25h-11.86zM207.62 77.3h11.86v0.95h-11.86zM184 78.2h11.86v1.85h-11.86zM207.62 78.2h11.86v1.85h-11.86zM195.81 80h11.86v1.85h-11.86zM184 81.8h11.86v1.35h-11.86zM207.62 81.8h11.86v1.35h-11.86zM195.81 87.1h11.86v0.95h-11.86zM195.81 112.3h11.86v1.85h-11.86zM219.44 112.3h11.86v1.85h-11.86zM254.88 120.1h11.86v0.95h-11.86zM231.25 145.6h11.86v1.55h-11.86zM266.69 175.2h11.86v1.35h-11.86zM266.69 182.5h11.86v1.55h-11.86z"/>
<path fill="#0571b0" d="M207.62 47.3h11.86v1.35h-11.86zM219.44 50.8h11.86v1.15h-11.86zM219.44 53.7h11.86v2.25h-11.86zM219.44 57.4h11.86v1.55h-11.86zM219.44 60.2h11.86v1.15h-11.86zM184 72.3h11.86v1.35h-11.86zM184 99.7h11.86v0.95h-11.86zM184 100.6h11.86v1.55h-11.86zM184 102.1h11.86v0.95h-11.86zM184 103h11.86v1.15h-11.86zM219.44 107.7h11.86v1.35h-11.86zM219.44 109h11.86v1.15h-11.86zM219.44 111.4h11.86v0.95h-11.86zM184 114.1h11.86v0.35h-11.86zM219.44 114.1h11.86v0.35h-11.86zM243.06 116.6h11.86v2.25h-11.86zM231.25 120.1h11.86v0.95h-11.86zM243.06 120.1h11.86v0.95h-11.86zM231.25 121h11.86v0.95h-11.86zM231.25 121.9h11.86v2.25h-11.86zM231.25 124.1h11.86v1.55h-11.86zM266.69 125.6h11.86v1.55h-11.86zM231.25 127.1h11.86v1.55h-11.86zM266.69 128.6h11.86v1.15h-11.86zM266.69 129.7h11.86v1.55h-11.86zM266.69 132.5h11.86v1.55h-11.86zM266.69 134h11.86v1.15h-11.86zM243.06 138.2h11.86v0.95h-11.86zM243.06 139.1h11.86v1.55h-11.86zM243.06 140.6h11.86v1.55h-11.86zM254.88 145.6h11.86v1.55h-11.86zM254.88 148.9h11.86v1.15h-11.86zM254.88 150h11.86v0.95h-11.86zM266.69 150h11.86v0.95h-11.86zM254.88 150.9h11.86v1.85h-11.86zM231.25 165.3h11.86v2.25h-11.86zM231.25 169h11.86v2.25h-11.86zM231.25 171.2h11.86v1.85h-11.86zM231.25 175.2h11.86v1.35h-11.86zM231.25 176.5h11.86v1.85h-11.86zM231.25 179.4h11.86v1.85h-11.86zM231.25 181.2h11.86v1.35h-11.86zM231.25 182.5h11.86v1.55h-11.86zM231.25 184h11.86v0.95h-11.86zM231.25 184.9h11.86v1.55h-11.86zM231.25 186.4h11.86v1.85h-11.86z"/>
<rect x="184.0" y="25.4" width="47.25" height="3.4" fill="#1f78b4"/>
<rect x="231.25" y="25.4" width="47.25" height="3.4" fill="#f51c1c"/>
<path d="M200.3 16V7.2H247.7V16M189.9 25.2V16H210.7V18.4M201.72 25.2V18.4H225.34V25.2M213.53 18.4V25.2M237.16 25.2V16H258.2V17.8M248.97 25.2V17.8H272.59V25.2M260.78 17.8V25.2" stroke="#555" stroke-width=".45" fill="none"/>
<path d="M171.5 53H163V132H171.5M174.44 46.12H171.5V88.82H172.88M176.49 34.31H174.44V51.43H174.84M178.02 31.16H176.49V36.48H177.33M179.2 30.18H178.02V32.35H179.29M180.8 29.59H179.2V30.77H180.71M181.57 29.2H180.8V29.79H181.2M181.57 29.2H184M181.6 29.59H181.2V29.98H182.16M181.6 29.59H184M182.16 29.98H184M181.52 30.38H180.71V30.97H181.11M181.52 30.38H184M181.51 30.77H181.11V31.16H181.51M181.51 30.77H184M181.51 31.16H184M180.75 31.75H179.29V32.74H180.32M181.97 31.56H180.75V31.95H181.72M181.97 31.56H184M181.72 31.95H184M181.62 32.35H180.32V32.94H180.95M181.62 32.35H184M181.75 32.74H180.95V33.13H181.52M181.75 32.74H184M181.52 33.13H184M178.04 35.1H177.33V38.25H179.31M179.42 34.31H178.04V36.08H180.25M180.88 33.72H179.42V34.71H179.84M181.8 33.53H180.88V33.92H181.69M181.8 33.53H184M181.69 33.92H184M181.66 34.31H179.84V34.9H180.93M181.66 34.31H184M181.33 34.71H180.93V35.1H181.53M181.33 34.71H184M181.53 35.1H184M180.65 35.69H180.25V36.48H180.79M182.09 35.49H180.65V35.89H181.36M182.09 35.49H184M181.36 35.89H184M182.13 36.28H180.79V36.67H181.99M182.13 36.28H184M181.99 36.67H184M180.46 37.26H179.31V38.64H179.71M182.05 37.07H180.46V37.46H181.63M182.05 37.07H184M181.63 37.46H184M180.11 38.25H179.71V39.23H180.84M181.33 37.85H180.11V38.45H180.51M181.33 37.85H184M181.35 38.25H180.51V38.64H181.28M181.35 38.25H184M181.28 38.64H184M181.83 39.04H180.84V39.43H182.16M181.83 39.04H184M182.16 39.43H184M176.62 45.14H174.84V56.94H175.81M177.34 42.97H176.62V48.48H178.23M178.24 41.4H177.34V44.74H178.73M179.75 40.41H178.24V42.18H179.83M181.67 39.82H179.75V40.61H180.41M181.67 39.82H184M181.94 40.22H180.41V40.81H180.81M181.94 40.22H184M181.69 40.61H180.81V41H181.47M181.69 40.61H184M181.47 41H184M180.84 41.59H179.83V42.58H180.23M182.11 41.4H180.84V41.79H182.16M182.11 41.4H184M182.16 41.79H184M181.44 42.18H180.23V42.77H181.27M181.44 42.18H184M181.67 42.58H181.27V42.97H182.09M181.67 42.58H184M182.09 42.97H184M179.18 44.15H178.73V45.73H180.38M180.45 43.76H179.18V44.74H181.15M181.54 43.36H180.45V43.95H181.1M181.54 43.36H184M181.73 43.76H181.1V44.15H182.03M181.73 43.76H184M182.03 44.15H184M182.09 44.55H181.15V44.94H182.01M182.09 44.55H184M182.01 44.94H184M181.74 45.33H180.38V45.92H180.78M181.74 45.33H184M181.67 45.73H180.78V46.12H181.9M181.67 45.73H184M181.9 46.12H184M179.64 47.3H178.23V49.46H178.83M180.29 46.91H179.64V47.89H180.95M181.7 46.51H180.29V47.1H181.05M181.7 46.51H184M181.84 46.91H181.05V47.3H181.6M181.84 46.91H184M181.6 47.3H184M181.37 47.69H180.95V48.09H181.47M181.37 47.69H184M181.47 48.09H184M181.39 48.68H178.83V49.86H179.62M181.79 48.48H181.39V48.87H182.15M181.79 48.48H184M182.15 48.87H184M180.84 49.46H179.62V50.25H181.05M181.44 49.27H180.84V49.66H181.84M181.44 49.27H184M181.84 49.66H184M181.95 50.05H181.05V50.45H181.45M181.95 50.05H184M181.45 50.45H184M178.14 52.81H175.81V59.11H176.93M179.16 52.02H178.14V54.19H179.68M180.48 51.04H179.16V52.42H179.81M181.86 50.84H180.48V51.24H181.5M181.86 50.84H184M181.5 51.24H184M180.66 51.83H179.81V52.81H180.21M181.74 51.63H180.66V52.02H181.96M181.74 51.63H184M181.96 52.02H184M181.91 52.42H180.21V53.01H180.61M181.91 52.42H184M182.09 52.81H180.61V53.2H181.3M182.09 52.81H184M181.3 53.2H184M181.13 53.79H179.68V54.58H181.03M181.91 53.6H181.13V53.99H181.53M181.91 53.6H184M181.53 53.99H184M182.14 54.38H181.03V54.78H182.18M182.14 54.38H184M182.18 54.78H184M178.62 56.75H176.93V60.88H178.17M179.13 55.96H178.62V57.73H179.74M181.06 55.37H179.13V56.35H179.93M181.51 55.17H181.06V55.56H182M181.51 55.17H184M182 55.56H184M182.17 55.96H179.93V56.55H180.86M182.17 55.96H184M182.15 56.35H180.86V56.75H182.15M182.15 56.35H184M182.15 56.75H184M181.76 57.14H179.74V57.93H180.14M181.76 57.14H184M181.41 57.53H180.14V58.12H180.72M181.41 57.53H184M181.72 57.93H180.72V58.32H181.74M181.72 57.93H184M181.74 58.32H184M180.22 59.11H178.17V61.47H178.73M181.99 58.71H180.22V59.3H180.88M181.99 58.71H184M181.28 59.11H180.88V59.5H182.21M181.28 59.11H184M182.21 59.5H184M179.53 60.48H178.73V62.25H179.25M181.39 59.89H179.53V60.68H179.94M181.39 59.89H184M181.42 60.29H179.94V60.88H181.14M181.42 60.29H184M182.19 60.68H181.14V61.07H181.54M182.19 60.68H184M181.54 61.07H184M181.82 61.47H179.25V62.45H180.22M181.82 61.47H184M182.05 61.86H180.22V62.65H180.62M182.05 61.86H184M181.41 62.25H180.62V62.85H181.11M181.41 62.25H184M181.85 62.65H181.11V63.04H181.55M181.85 62.65H184M181.55 63.04H184M174.6 75.83H172.88V101.41H174.83M175.41 70.52H174.6V83.11H176.2M176.17 67.96H175.41V75.24H177.5M177.74 66.19H176.17V70.91H178.15M178.76 64.62H177.74V67.57H179.17M180.41 63.83H178.76V65.21H179.9M181.82 63.44H180.41V64.03H180.81M181.82 63.44H184M181.96 63.83H180.81V64.22H181.58M181.96 63.83H184M181.58 64.22H184M181.53 64.62H179.9V65.4H180.64M181.53 64.62H184M182.01 65.01H180.64V65.6H181.04M182.01 65.01H184M181.44 65.4H181.04V65.8H181.57M181.44 65.4H184M181.57 65.8H184M180.66 66.39H179.17V67.96H179.57M182.01 66.19H180.66V66.58H181.59M182.01 66.19H184M181.59 66.58H184M180.75 67.17H179.57V68.35H179.97M181.52 66.98H180.75V67.37H181.42M181.52 66.98H184M181.42 67.37H184M181.13 67.96H179.97V68.75H181.13M181.55 67.76H181.13V68.16H181.83M181.55 67.76H184M181.83 68.16H184M182.07 68.55H181.13V68.95H182.06M182.07 68.55H184M182.06 68.95H184M178.84 70.32H178.15V72.09H180.63M180.86 69.54H178.84V70.72H179.58M181.31 69.34H180.86V69.73H181.38M181.31 69.34H184M181.38 69.73H184M181.23 70.32H179.58V71.11H181.34M181.63 70.13H181.23V70.52H181.63M181.63 70.13H184M181.63 70.52H184M181.74 70.91H181.34V71.31H181.81M181.74 70.91H184M181.81 71.31H184M181.64 71.7H180.63V72.29H181.03M181.64 71.7H184M181.93 72.09H181.03V72.49H181.43M181.93 72.09H184M181.43 72.49H184M178.87 73.86H177.5V76.42H178.88M179.95 73.27H178.87V74.45H180.39M181.33 72.88H179.95V73.47H181.13M181.33 72.88H184M181.94 73.27H181.13V73.67H181.81M181.94 73.27H184M181.81 73.67H184M182.13 74.06H180.39V74.65H181.2M182.13 74.06H184M181.65 74.45H181.2V74.85H182.06M181.65 74.45H184M182.06 74.85H184M180.64 75.44H178.88V76.82H179.35M181.88 75.24H180.64V75.64H182.07M181.88 75.24H184M182.07 75.64H184M179.84 76.42H179.35V77.41H180.99M181.86 76.03H179.84V76.62H180.84M181.86 76.03H184M182 76.42H180.84V76.82H181.6M182 76.42H184M181.6 76.82H184M181.96 77.21H180.99V77.6H182.03M181.96 77.21H184M182.03 77.6H184M178.38 79.96H176.2V85.28H177.13M179.08 78.78H178.38V80.95H179.66M179.88 78.39H179.08V79.37H180.86M181.94 78H179.88V78.59H181.38M181.94 78H184M182.15 78.39H181.38V78.78H181.78M182.15 78.39H184M181.78 78.78H184M182.15 79.18H180.86V79.57H181.85M182.15 79.18H184M181.85 79.57H184M180.56 80.36H179.66V81.54H180.58M180.96 80.16H180.56V80.75H181.91M181.55 79.96H180.96V80.36H181.41M181.55 79.96H184M181.41 80.36H184M181.91 80.75H184M181.28 81.15H180.58V81.74H180.98M181.28 81.15H184M181.81 81.54H180.98V81.93H181.38M181.81 81.54H184M181.38 81.93H184M179.2 83.7H177.13V86.85H179.06M180.1 82.72H179.2V84.29H179.6M181.22 82.33H180.1V82.92H180.78M181.22 82.33H184M181.9 82.72H180.78V83.11H182.15M181.9 82.72H184M182.15 83.11H184M180.81 83.7H179.6V84.69H180.56M182.03 83.51H180.81V83.9H182.17M182.03 83.51H184M182.17 83.9H184M181.91 84.29H180.56V84.88H181.2M181.91 84.29H184M182.06 84.69H181.2V85.08H181.84M182.06 84.69H184M181.84 85.08H184M181.38 85.67H179.06V87.25H179.46M182.12 85.47H181.38V85.87H181.78M182.12 85.47H184M181.78 85.87H184M180.07 86.65H179.46V87.84H180.81M182.15 86.26H180.07V86.85H180.81M182.15 86.26H184M181.89 86.65H180.81V87.05H181.74M181.89 86.65H184M181.74 87.05H184M181.21 87.64H180.81V88.23H181.43M181.61 87.44H181.21V87.84H182.14M181.61 87.44H184M182.14 87.84H184M181.43 88.23H184M175.81 94.33H174.83V107.32H175.5M177.19 91.97H175.81V97.87H178.46M178.14 90.39H177.19V93.94H178.29M180.21 89.02H178.14V90.98H179.1M181.5 88.62H180.21V89.21H180.98M181.5 88.62H184M181.38 89.02H180.98V89.41H182.09M181.38 89.02H184M182.09 89.41H184M179.64 90.39H179.1V91.77H180.39M181.38 89.8H179.64V90.59H180.33M181.38 89.8H184M181.67 90.2H180.33V90.79H181.36M181.67 90.2H184M181.76 90.59H181.36V90.98H181.76M181.76 90.59H184M181.76 90.98H184M182.17 91.38H180.39V91.97H181.35M182.17 91.38H184M181.75 91.77H181.35V92.16H181.89M181.75 91.77H184M181.89 92.16H184M180.2 92.95H178.29V94.53H179.83M181.66 92.56H180.2V93.15H181.35M181.66 92.56H184M181.75 92.95H181.35V93.35H181.75M181.75 92.95H184M181.75 93.35H184M182.03 93.74H179.83V94.72H180.23M182.03 93.74H184M181.26 94.33H180.23V95.12H181.29M181.96 94.13H181.26V94.53H181.95M181.96 94.13H184M181.95 94.53H184M182.18 94.92H181.29V95.31H181.87M182.18 94.92H184M181.87 95.31H184M179.36 96.69H178.46V99.05H179.5M181.79 95.71H179.36V96.89H179.76M181.79 95.71H184M180.59 96.49H179.76V97.48H181.3M181.46 96.1H180.59V96.69H180.99M181.46 96.1H184M181.72 96.49H180.99V96.89H182.16M181.72 96.49H184M182.16 96.89H184M181.7 97.28H181.3V97.67H182.15M181.7 97.28H184M182.15 97.67H184M179.9 98.66H179.5V99.84H181.22M181.28 98.07H179.9V98.85H180.3M181.28 98.07H184M181.93 98.46H180.3V99.05H180.99M181.93 98.46H184M182.18 98.85H180.99V99.25H181.53M182.18 98.85H184M181.53 99.25H184M181.72 99.64H181.22V100.04H182.13M181.72 99.64H184M182.13 100.04H184M176.98 104.17H175.5V111.25H177.62M177.38 102.79H176.98V106.73H178.88M178.62 102H177.38V104.56H179.56M179.17 101.22H178.62V102.99H179.44M181.19 100.63H179.17V101.61H180.62M182.04 100.43H181.19V100.82H181.63M182.04 100.43H184M181.63 100.82H184M181.94 101.22H180.62V101.81H181.14M181.94 101.22H184M181.59 101.61H181.14V102H181.91M181.59 101.61H184M181.91 102H184M182.14 102.4H179.44V103.18H180.62M182.14 102.4H184M181.34 102.79H180.62V103.38H181.02M181.34 102.79H184M182.14 103.18H181.02V103.58H181.95M182.14 103.18H184M181.95 103.58H184M181.6 103.97H179.56V104.76H180.55M181.6 103.97H184M182.09 104.36H180.55V104.95H181.31M182.09 104.36H184M181.8 104.76H181.31V105.15H181.72M181.8 104.76H184M181.72 105.15H184M181.28 105.74H178.88V107.12H179.28M182.14 105.55H181.28V105.94H181.68M182.14 105.55H184M181.68 105.94H184M181.74 106.33H179.28V107.32H180.18M181.74 106.33H184M181.99 106.73H180.18V107.51H180.58M181.99 106.73H184M181.88 107.12H180.58V107.71H180.98M181.88 107.12H184M181.95 107.51H180.98V107.91H181.55M181.95 107.51H184M181.55 107.91H184M179.77 108.89H177.62V112.04H178.45M181.62 108.3H179.77V109.09H180.17M181.62 108.3H184M181.94 108.69H180.17V109.28H181.3M181.94 108.69H184M181.7 109.09H181.3V109.48H182.11M181.7 109.09H184M182.11 109.48H184M179.26 110.86H178.45V113.22H179.5M180.81 110.27H179.26V111.45H180.8M181.52 109.87H180.81V110.46H181.21M181.52 109.87H184M181.61 110.27H181.21V110.66H181.61M181.61 110.27H184M181.61 110.66H184M182.14 111.05H180.8V111.65H181.23M182.14 111.05H184M181.73 111.45H181.23V111.84H181.63M181.73 111.45H184M181.63 111.84H184M181.99 112.24H179.5V113.42H180M181.99 112.24H184M180.4 113.02H180V114.01H181.17M182.1 112.63H180.4V113.22H181.35M182.1 112.63H184M181.75 113.02H181.35V113.42H181.75M181.75 113.02H184M181.75 113.42H184M181.7 113.81H181.17V114.2H181.63M181.7 113.81H184M181.63 114.2H184M173.68 132.65H171.5V169.55H173.96M175.87 120.48H173.68V138.74H175.31M176.72 118.52H175.87V124.61H178.02M177.66 116.95H176.72V121.07H178.24M178.82 115.58H177.66V118.13H179.01M181.03 114.79H178.82V115.97H180.01M181.43 114.6H181.03V114.99H182.1M181.43 114.6H184M182.1 114.99H184M181.65 115.38H180.01V116.17H180.41M181.65 115.38H184M182.12 115.77H180.41V116.36H180.81M182.12 115.77H184M182.15 116.17H180.81V116.56H181.98M182.15 116.17H184M181.98 116.56H184M180.32 117.34H179.01V118.72H180.07M181.97 116.95H180.32V117.54H180.81M181.97 116.95H184M181.22 117.34H180.81V117.74H181.62M181.22 117.34H184M181.62 117.74H184M182.11 118.13H180.07V118.91H180.69M182.11 118.13H184M181.4 118.52H180.69V119.11H181.09M181.4 118.52H184M181.65 118.91H181.09V119.31H182.04M181.65 118.91H184M182.04 119.31H184M179.42 120.29H178.24V121.86H179.67M181.39 119.7H179.42V120.48H180.6M181.39 119.7H184M182.1 120.09H180.6V120.68H181M182.1 120.09H184M181.92 120.48H181V120.88H181.6M181.92 120.48H184M181.6 120.88H184M181.72 121.27H179.67V122.05H180.07M181.72 121.27H184M181.45 121.66H180.07V122.25H180.63M181.45 121.66H184M181.91 122.05H180.63V122.45H182M181.91 122.05H184M182 122.45H184M179.36 123.62H178.02V125.59H179.6M180.62 123.23H179.36V124.21H180.41M182.08 122.84H180.62V123.43H181.02M182.08 122.84H184M182.12 123.23H181.02V123.62H181.59M182.12 123.23H184M181.59 123.62H184M181.61 124.02H180.41V124.41H181.99M181.61 124.02H184M181.99 124.41H184M181.42 124.8H179.6V125.78H180M181.42 124.8H184M181.07 125.39H180V126.18H181.29M181.68 125.2H181.07V125.59H182.05M181.68 125.2H184M182.05 125.59H184M181.89 125.98H181.29V126.37H181.69M181.89 125.98H184M181.69 126.37H184M175.72 133.44H175.31V145.61H176.9M177.1 129.51H175.72V136.38H176.99M178.71 127.94H177.1V130.89H178.83M180.72 127.16H178.71V128.53H179.69M181.97 126.77H180.72V127.35H181.12M181.97 126.77H184M181.52 127.16H181.12V127.55H182M181.52 127.16H184M182 127.55H184M181.35 128.14H179.69V128.92H181.22M181.75 127.94H181.35V128.34H181.87M181.75 127.94H184M181.87 128.34H184M182 128.73H181.22V129.12H181.62M182 128.73H184M181.62 129.12H184M179.44 130.1H178.83V131.67H179.73M182.12 129.51H179.44V130.3H180.26M182.12 129.51H184M181.82 129.91H180.26V130.49H181.18M181.82 129.91H184M182.18 130.3H181.18V130.69H182.06M182.18 130.3H184M182.06 130.69H184M181.93 131.08H179.73V131.87H180.55M181.93 131.08H184M180.95 131.67H180.55V132.26H181.82M182.08 131.48H180.95V131.87H181.87M182.08 131.48H184M181.87 131.87H184M181.82 132.26H184M178.01 134.62H176.99V138.54H178.31M179.83 133.24H178.01V135.4H178.62M181.88 132.65H179.83V133.44H180.23M181.88 132.65H184M181.39 133.05H180.23V133.64H181.23M181.39 133.05H184M181.63 133.44H181.23V133.83H182.07M181.63 133.44H184M182.07 133.83H184M179.7 134.81H178.62V136.19H180.03M181.32 134.22H179.7V135.01H180.1M181.32 134.22H184M181.26 134.62H180.1V135.21H181.05M181.26 134.62H184M181.5 135.01H181.05V135.4H181.51M181.5 135.01H184M181.51 135.4H184M181.52 135.79H180.03V136.38H180.75M181.52 135.79H184M181.35 136.19H180.75V136.58H182.12M181.35 136.19H184M182.12 136.58H184M180.69 137.36H178.31V139.13H178.76M181.94 136.97H180.69V137.56H181.09M181.94 136.97H184M181.49 137.36H181.09V137.76H182.01M181.49 137.36H184M182.01 137.76H184M180.33 138.54H178.76V139.72H180.39M181.7 138.15H180.33V138.74H180.92M181.7 138.15H184M181.36 138.54H180.92V138.93H181.44M181.36 138.54H184M181.44 138.93H184M182.2 139.33H180.39V139.92H180.79M182.2 139.33H184M181.84 139.72H180.79V140.11H181.41M181.84 139.72H184M181.41 140.11H184M177.6 143.25H176.9V148.55H177.88M178.67 141.68H177.6V144.63H179.06M179.98 141.09H178.67V142.47H180.74M181.58 140.5H179.98V141.29H180.48M181.58 140.5H184M182.17 140.9H180.48V141.49H180.88M182.17 140.9H184M181.96 141.29H180.88V141.68H181.97M181.96 141.29H184M181.97 141.68H184M181.31 142.07H180.74V142.66H181.34M181.31 142.07H184M181.8 142.47H181.34V142.86H181.74M181.8 142.47H184M181.74 142.86H184M180.71 143.65H179.06V145.22H179.83M181.53 143.25H180.71V143.84H181.11M181.53 143.25H184M181.51 143.65H181.11V144.04H181.86M181.51 143.65H184M181.86 144.04H184M181.72 144.43H179.83V145.41H180.23M181.72 144.43H184M181.24 144.82H180.23V145.61H180.63M181.24 144.82H184M181.97 145.22H180.63V145.8H181.25M181.97 145.22H184M181.65 145.61H181.25V146H181.65M181.65 145.61H184M181.65 146H184M179.85 147.18H177.88V149.53H179.25M181.22 146.39H179.85V147.37H180.25M181.22 146.39H184M182.1 146.79H180.25V147.57H180.65M182.1 146.79H184M181.61 147.18H180.65V147.77H181.05M181.61 147.18H184M182.1 147.57H181.05V147.96H181.86M182.1 147.57H184M181.86 147.96H184M180.51 148.55H179.25V149.93H179.65M181.65 148.36H180.51V148.75H181.95M181.65 148.36H184M181.95 148.75H184M182.18 149.14H179.65V150.12H180.05M182.18 149.14H184M181.25 149.73H180.05V150.51H181.01M181.67 149.53H181.25V149.93H182.08M181.67 149.53H184M182.08 149.93H184M181.41 150.32H181.01V150.71H182.05M181.41 150.32H184M182.05 150.71H184M174.78 162.1H173.96V180.74H175.68M176.36 156.99H174.78V168.18H176.58M177.06 154.44H176.36V160.52H177.78M178.52 152.48H177.06V156.01H178.46M180.19 151.5H178.52V153.07H179.75M181.33 151.1H180.19V151.69H181.33M181.33 151.1H184M181.73 151.5H181.33V151.89H181.73M181.73 151.5H184M181.73 151.89H184M181.1 152.48H179.75V153.46H180.82M181.5 152.28H181.1V152.67H182.02M181.5 152.28H184M182.02 152.67H184M181.86 153.07H180.82V153.66H181.26M181.86 153.07H184M181.66 153.46H181.26V153.85H182.07M181.66 153.46H184M182.07 153.85H184M180.24 154.83H178.46V156.8H178.86M180.64 154.44H180.24V155.23H180.64M181.78 154.24H180.64V154.64H181.53M181.78 154.24H184M181.53 154.64H184M181.52 155.03H180.64V155.42H181.6M181.52 155.03H184M181.6 155.42H184M179.5 156.4H178.86V157.58H181.3M182.02 155.81H179.5V156.6H180.13M182.02 155.81H184M181.27 156.21H180.13V156.8H180.53M181.27 156.21H184M181.31 156.6H180.53V156.99H181.96M181.31 156.6H184M181.96 156.99H184M181.94 157.38H181.3V157.78H182.06M181.94 157.38H184M182.06 157.78H184M178.84 159.15H177.78V161.7H179.29M180.61 158.37H178.84V159.54H179.77M181.22 158.17H180.61V158.56H181.64M181.22 158.17H184M181.64 158.56H184M181.09 159.15H179.77V159.94H181.23M182.06 158.95H181.09V159.35H181.49M182.06 158.95H184M181.49 159.35H184M181.92 159.74H181.23V160.13H181.91M181.92 159.74H184M181.91 160.13H184M179.97 161.11H179.29V162.49H180.68M181.61 160.52H179.97V161.31H180.37M181.61 160.52H184M181.54 160.92H180.37V161.51H181.32M181.54 160.92H184M181.72 161.31H181.32V161.7H182M181.72 161.31H184M182 161.7H184M181.98 162.1H180.68V162.68H181.08M181.98 162.1H184M181.82 162.49H181.08V162.88H181.48M181.82 162.49H184M181.48 162.88H184M178.76 165.04H176.58V170.14H177.56M179.5 164.06H178.76V166.02H179.66M180.47 163.47H179.5V164.45H180.41M182 163.27H180.47V163.67H181.76M182 163.27H184M181.76 163.67H184M181.29 164.06H180.41V164.65H181.22M181.29 164.06H184M181.62 164.45H181.22V164.84H181.62M181.62 164.45H184M181.62 164.84H184M180.83 165.43H179.66V166.41H180.81M182.15 165.24H180.83V165.63H181.7M182.15 165.24H184M181.7 165.63H184M182.01 166.02H180.81V166.61H181.37M182.01 166.02H184M182.12 166.41H181.37V166.81H181.77M182.12 166.41H184M181.77 166.81H184M178.76 168.57H177.56V171.71H179.16M180.24 167.79H178.76V169.36H179.71M182.14 167.2H180.24V167.98H180.64M182.14 167.2H184M181.04 167.79H180.64V168.38H181.54M181.44 167.59H181.04V167.98H182.01M181.44 167.59H184M182.01 167.98H184M181.54 168.38H184M180.84 168.96H179.71V169.75H180.46M181.24 168.77H180.84V169.16H181.3M181.24 168.77H184M181.3 169.16H184M182.18 169.55H180.46V169.95H181.26M182.18 169.55H184M181.26 169.95H184M180.67 170.73H179.16V172.3H179.95M181.72 170.34H180.67V170.93H181.18M181.72 170.34H184M182.08 170.73H181.18V171.12H182.08M182.08 170.73H184M182.08 171.12H184M180.51 171.91H179.95V172.89H181.36M181.51 171.52H180.51V172.11H181.17M181.51 171.52H184M181.57 171.91H181.17V172.3H181.57M181.57 171.91H184M181.57 172.3H184M181.76 172.69H181.36V173.09H181.76M181.76 172.69H184M181.76 173.09H184M177.45 175.83H175.68V183.29H176.1M178.76 174.66H177.45V177.21H179.59M180.82 173.68H178.76V175.05H179.74M181.4 173.48H180.82V173.87H181.77M181.4 173.48H184M181.77 173.87H184M180.57 174.66H179.74V175.64H181.31M182.2 174.26H180.57V174.85H180.97M182.2 174.26H184M181.37 174.66H180.97V175.05H181.54M181.37 174.66H184M181.54 175.05H184M181.71 175.44H181.31V175.83H181.71M181.71 175.44H184M181.71 175.83H184M180.92 176.42H179.59V177.6H179.99M181.86 176.23H180.92V176.62H181.32M181.86 176.23H184M181.32 176.62H184M182.17 177.01H179.99V177.8H180.68M182.17 177.01H184M181.54 177.4H180.68V177.99H181.08M181.54 177.4H184M181.67 177.8H181.08V178.19H181.93M181.67 177.8H184M181.93 178.19H184M179.04 179.76H176.1V184.67H176.89M180.36 179.17H179.04V180.55H180.4M180.79 178.78H180.36V179.56H181.34M181.87 178.58H180.79V178.98H182.05M181.87 178.58H184M182.05 178.98H184M181.88 179.37H181.34V179.76H181.74M181.88 179.37H184M181.74 179.76H184M181.53 180.15H180.4V180.74H181.15M181.53 180.15H184M182.05 180.55H181.15V180.94H182.07M182.05 180.55H184M182.07 180.94H184M178.38 182.9H176.89V186.43H178.57M180.12 181.92H178.38V183.69H179.07M181.54 181.33H180.12V182.12H180.52M181.54 181.33H184M181.56 181.72H180.52V182.31H180.93M181.56 181.72H184M181.33 182.12H180.93V182.51H181.45M181.33 182.12H184M181.45 182.51H184M180.51 183.29H179.07V184.27H180.85M181.51 182.9H180.51V183.49H181.06M181.51 182.9H184M181.58 183.29H181.06V183.69H182.21M181.58 183.29H184M182.21 183.69H184M182.1 184.08H180.85V184.47H181.47M182.1 184.08H184M181.47 184.47H184M179.37 185.65H178.57V187.41H179.7M181 185.06H179.37V186.04H180.33M181.65 184.86H181V185.26H182.16M181.65 184.86H184M182.16 185.26H184M181.57 185.65H180.33V186.24H181.34M181.57 185.65H184M182.19 186.04H181.34V186.43H181.74M182.19 186.04H184M181.74 186.43H184M181.93 186.83H179.7V187.61H180.78M181.93 186.83H184M181.82 187.22H180.78V187.81H181.36M181.82 187.22H184M181.76 187.61H181.36V188H182.11M181.76 187.61H184M182.11 188H184" stroke="#000" stroke-width=".4" fill="none"/>
<text transform="translate(188.61 189.6) rotate(90)" font-size="4" fill="#000">n1_DIA</text>
<text transform="translate(200.42 189.6) rotate(90)" font-size="4" fill="#000">n4_DIA</text>
<text transform="translate(212.23 189.6) rotate(90)" font-size="4" fill="#000">n2_DIA</text>
<text transform="translate(224.04 189.6) rotate(90)" font-size="4" fill="#000">n3_DIA</text>
<text transform="translate(235.86 189.6) rotate(90)" font-size="4" fill="#000">s3_DIA</text>
<text transform="translate(247.67 189.6) rotate(90)" font-size="4" fill="#000">s2_DIA</text>
<text transform="translate(259.48 189.6) rotate(90)" font-size="4" fill="#000">s1_DIA</text>
<text transform="translate(271.29 189.6) rotate(90)" font-size="4" fill="#000">s4_DIA</text>
<defs><linearGradient id="hm" x1="0" y1="0" x2="0" y2="1"><stop offset="0" stop-color="#ca0020"/><stop offset="0.25" stop-color="#f4a582"/><stop offset="0.5" stop-color="#f7f7f7"/><stop offset="0.75" stop-color="#92c5de"/><stop offset="1" stop-color="#0571b0"/></linearGradient></defs>
<rect x="281" y="30" width="3.8" height="52" fill="url(#hm)"/>
<text x="286.3" y="31.9" font-size="4" text-anchor="start" fill="#000" >2</text>
<text x="286.3" y="44.7" font-size="4" text-anchor="start" fill="#000" >1</text>
<text x="286.3" y="57.5" font-size="4" text-anchor="start" fill="#000" >0</text>
<text x="286.3" y="70.3" font-size="4" text-anchor="start" fill="#000" >-1</text>
<text x="286.3" y="83.1" font-size="4" text-anchor="start" fill="#000" >-2</text>
<text x="280.6" y="28.6" font-size="4.3" text-anchor="start" fill="#000" font-weight="bold">Type</text>
<text x="292.3" y="32.9" font-size="4.3" text-anchor="start" fill="#000" font-weight="bold">Type</text>
<rect x="292.3" y="33.6" width="5" height="5" fill="#f51c1c"/>
<rect x="292.3" y="38.6" width="5" height="5" fill="#1f78b4"/>
<text x="299" y="37.6" font-size="4" text-anchor="start" fill="#000" >sc_DIA</text>
<text x="299" y="42.6" font-size="4" text-anchor="start" fill="#000" >NC_DIA</text>
<rect x="448.6" y="35.4" width="45.8" height="8.4" fill="#d9d9d9" stroke="#333" stroke-width=".45"/>
<text x="471.5" y="41.2" font-size="4.6" text-anchor="middle" fill="#000" >down-regulated</text>
<rect x="448.6" y="43.8" width="45.8" height="144.6" fill="#fff" stroke="#333" stroke-width=".45"/>
<rect x="449" y="44.98" width="29" height="5.95" fill="#e87bbb"/>
<text x="478.4" y="49.7" font-size="4.5" text-anchor="start" fill="#222" >40</text>
<rect x="449" y="51.8" width="15.22" height="5.95" fill="#f667ac"/>
<text x="464.62" y="56.52" font-size="4.5" text-anchor="start" fill="#222" >21</text>
<rect x="449" y="58.62" width="10.88" height="5.95" fill="#e05b6e"/>
<text x="460.27" y="63.34" font-size="4.5" text-anchor="start" fill="#222" >15</text>
<rect x="449" y="65.44" width="10.88" height="5.95" fill="#cf5138"/>
<text x="460.27" y="70.16" font-size="4.5" text-anchor="start" fill="#222" >15</text>
<rect x="449" y="72.26" width="8.7" height="5.95" fill="#d07224"/>
<text x="458.1" y="76.98" font-size="4.5" text-anchor="start" fill="#222" >12</text>
<rect x="449" y="79.08" width="8.7" height="5.95" fill="#dca71c"/>
<text x="458.1" y="83.8" font-size="4.5" text-anchor="start" fill="#222" >12</text>
<rect x="449" y="85.9" width="7.25" height="5.95" fill="#efe21b"/>
<text x="456.65" y="90.62" font-size="4.5" text-anchor="start" fill="#222" >10</text>
<rect x="449" y="92.72" width="6.52" height="5.95" fill="#ffd500"/>
<text x="455.92" y="97.44" font-size="4.5" text-anchor="start" fill="#222" >9</text>
<rect x="449" y="99.54" width="6.52" height="5.95" fill="#ffa200"/>
<text x="455.92" y="104.26" font-size="4.5" text-anchor="start" fill="#222" >9</text>
<rect x="449" y="106.36" width="6.52" height="5.95" fill="#ff8000"/>
<text x="455.92" y="111.08" font-size="4.5" text-anchor="start" fill="#222" >9</text>
<rect x="449" y="113.18" width="5.8" height="5.95" fill="#f26b3a"/>
<text x="455.2" y="117.9" font-size="4.5" text-anchor="start" fill="#222" >8</text>
<rect x="449" y="120" width="5.08" height="5.95" fill="#d2416e"/>
<text x="454.47" y="124.72" font-size="4.5" text-anchor="start" fill="#222" >7</text>
<rect x="449" y="126.82" width="2.9" height="5.95" fill="#8e3fa3"/>
<text x="452.3" y="131.54" font-size="4.5" text-anchor="start" fill="#222" >4</text>
<rect x="449" y="133.64" width="2.17" height="5.95" fill="#4e5e52"/>
<text x="451.57" y="138.36" font-size="4.5" text-anchor="start" fill="#222" >3</text>
<rect x="449" y="140.46" width="2.17" height="5.95" fill="#2aa04a"/>
<text x="451.57" y="145.18" font-size="4.5" text-anchor="start" fill="#222" >3</text>
<rect x="449" y="147.28" width="2.17" height="5.95" fill="#1ca05a"/>
<text x="451.57" y="152" font-size="4.5" text-anchor="start" fill="#222" >3</text>
<rect x="449" y="154.1" width="2.17" height="5.95" fill="#16998a"/>
<text x="451.57" y="158.82" font-size="4.5" text-anchor="start" fill="#222" >3</text>
<rect x="449" y="160.92" width="0.72" height="5.95" fill="#1f7fc2"/>
<text x="450.12" y="165.64" font-size="4.5" text-anchor="start" fill="#222" >1</text>
<rect x="449" y="167.74" width="0.72" height="5.95" fill="#55579c"/>
<text x="450.12" y="172.46" font-size="4.5" text-anchor="start" fill="#222" >1</text>
<rect x="449" y="174.56" width="0.72" height="5.95" fill="#c2304e"/>
<text x="450.12" y="179.28" font-size="4.5" text-anchor="start" fill="#222" >1</text>
<rect x="449" y="181.38" width="0.72" height="5.95" fill="#ff2a2a"/>
<text x="450.12" y="186.1" font-size="4.5" text-anchor="start" fill="#222" >1</text>
<text x="449" y="194.9" font-size="4.5" text-anchor="middle" fill="#4d4d4d" >0</text>
<text x="463.5" y="194.9" font-size="4.5" text-anchor="middle" fill="#4d4d4d" >20</text>
<text x="478" y="194.9" font-size="4.5" text-anchor="middle" fill="#4d4d4d" >40</text>
<text x="492.5" y="194.9" font-size="4.5" text-anchor="middle" fill="#4d4d4d" >60</text>
<path d="M449 188.4v1.3M463.5 188.4v1.3M478 188.4v1.3M492.5 188.4v1.3" stroke="#333" stroke-width=".45"/>
<rect x="497.4" y="35.4" width="45.6" height="8.4" fill="#d9d9d9" stroke="#333" stroke-width=".45"/>
<text x="520.2" y="41.2" font-size="4.6" text-anchor="middle" fill="#000" >up-regulated</text>
<rect x="497.4" y="43.8" width="45.6" height="144.6" fill="#fff" stroke="#333" stroke-width=".45"/>
<rect x="497.8" y="44.98" width="37.7" height="5.95" fill="#e87bbb"/>
<text x="535.9" y="49.7" font-size="4.5" text-anchor="start" fill="#222" >52</text>
<rect x="497.8" y="51.8" width="20.3" height="5.95" fill="#f667ac"/>
<text x="518.5" y="56.52" font-size="4.5" text-anchor="start" fill="#222" >28</text>
<rect x="497.8" y="58.62" width="4.35" height="5.95" fill="#e05b6e"/>
<text x="502.55" y="63.34" font-size="4.5" text-anchor="start" fill="#222" >6</text>
<rect x="497.8" y="65.44" width="12.32" height="5.95" fill="#cf5138"/>
<text x="510.52" y="70.16" font-size="4.5" text-anchor="start" fill="#222" >17</text>
<rect x="497.8" y="72.26" width="3.62" height="5.95" fill="#d07224"/>
<text x="501.82" y="76.98" font-size="4.5" text-anchor="start" fill="#222" >5</text>
<rect x="497.8" y="79.08" width="8.7" height="5.95" fill="#dca71c"/>
<text x="506.9" y="83.8" font-size="4.5" text-anchor="start" fill="#222" >12</text>
<rect x="497.8" y="85.9" width="2.9" height="5.95" fill="#efe21b"/>
<text x="501.1" y="90.62" font-size="4.5" text-anchor="start" fill="#222" >4</text>
<rect x="497.8" y="92.72" width="3.62" height="5.95" fill="#ffd500"/>
<text x="501.82" y="97.44" font-size="4.5" text-anchor="start" fill="#222" >5</text>
<rect x="497.8" y="99.54" width="9.42" height="5.95" fill="#ffa200"/>
<text x="507.62" y="104.26" font-size="4.5" text-anchor="start" fill="#222" >13</text>
<rect x="497.8" y="106.36" width="4.35" height="5.95" fill="#ff8000"/>
<text x="502.55" y="111.08" font-size="4.5" text-anchor="start" fill="#222" >6</text>
<rect x="497.8" y="113.18" width="4.35" height="5.95" fill="#f26b3a"/>
<text x="502.55" y="117.9" font-size="4.5" text-anchor="start" fill="#222" >6</text>
<rect x="497.8" y="120" width="2.9" height="5.95" fill="#d2416e"/>
<text x="501.1" y="124.72" font-size="4.5" text-anchor="start" fill="#222" >4</text>
<rect x="497.8" y="126.82" width="2.17" height="5.95" fill="#8e3fa3"/>
<text x="500.38" y="131.54" font-size="4.5" text-anchor="start" fill="#222" >3</text>
<rect x="497.8" y="133.64" width="2.17" height="5.95" fill="#4e5e52"/>
<text x="500.38" y="138.36" font-size="4.5" text-anchor="start" fill="#222" >3</text>
<rect x="497.8" y="140.46" width="1.45" height="5.95" fill="#2aa04a"/>
<text x="499.65" y="145.18" font-size="4.5" text-anchor="start" fill="#222" >2</text>
<rect x="497.8" y="147.28" width="6.52" height="5.95" fill="#1ca05a"/>
<text x="504.72" y="152" font-size="4.5" text-anchor="start" fill="#222" >9</text>
<rect x="497.8" y="154.1" width="7.97" height="5.95" fill="#16998a"/>
<text x="506.18" y="158.82" font-size="4.5" text-anchor="start" fill="#222" >11</text>
<rect x="497.8" y="160.92" width="2.17" height="5.95" fill="#1f7fc2"/>
<text x="500.38" y="165.64" font-size="4.5" text-anchor="start" fill="#222" >3</text>
<rect x="497.8" y="167.74" width="9.42" height="5.95" fill="#55579c"/>
<text x="507.62" y="172.46" font-size="4.5" text-anchor="start" fill="#222" >13</text>
<rect x="497.8" y="174.56" width="5.8" height="5.95" fill="#c2304e"/>
<text x="504" y="179.28" font-size="4.5" text-anchor="start" fill="#222" >8</text>
<rect x="497.8" y="181.38" width="3.62" height="5.95" fill="#ff2a2a"/>
<text x="501.82" y="186.1" font-size="4.5" text-anchor="start" fill="#222" >5</text>
<text x="497.8" y="194.9" font-size="4.5" text-anchor="middle" fill="#4d4d4d" >0</text>
<text x="512.3" y="194.9" font-size="4.5" text-anchor="middle" fill="#4d4d4d" >20</text>
<text x="526.8" y="194.9" font-size="4.5" text-anchor="middle" fill="#4d4d4d" >40</text>
<text x="541.3" y="194.9" font-size="4.5" text-anchor="middle" fill="#4d4d4d" >60</text>
<path d="M497.8 188.4v1.3M512.3 188.4v1.3M526.8 188.4v1.3M541.3 188.4v1.3" stroke="#333" stroke-width=".45"/>
<text x="446.2" y="49.85" font-size="4.55" text-anchor="end" fill="#333" >Function unknown</text>
<text x="446.2" y="56.67" font-size="4.55" text-anchor="end" fill="#333" >Posttranslational modification, protein turnover, chaperones</text>
<text x="446.2" y="63.49" font-size="4.55" text-anchor="end" fill="#333" >Transcription</text>
<text x="446.2" y="70.31" font-size="4.55" text-anchor="end" fill="#333" >Signal transduction mechanisms</text>
<text x="446.2" y="77.13" font-size="4.55" text-anchor="end" fill="#333" >Translation, ribosomal structure and biogenesis</text>
<text x="446.2" y="83.95" font-size="4.55" text-anchor="end" fill="#333" >Replication, recombination and repair</text>
<text x="446.2" y="90.77" font-size="4.55" text-anchor="end" fill="#333" >Amino acid transport and metabolism</text>
<text x="446.2" y="97.59" font-size="4.55" text-anchor="end" fill="#333" >Lipid transport and metabolism</text>
<text x="446.2" y="104.41" font-size="4.55" text-anchor="end" fill="#333" >Intracellular trafficking, secretion, and vesicular transport</text>
<text x="446.2" y="111.23" font-size="4.55" text-anchor="end" fill="#333" >Inorganic ion transport and metabolism</text>
<text x="446.2" y="118.05" font-size="4.55" text-anchor="end" fill="#333" >Carbohydrate transport and metabolism</text>
<text x="446.2" y="124.87" font-size="4.55" text-anchor="end" fill="#333" >Coenzyme transport and metabolism</text>
<text x="446.2" y="131.69" font-size="4.55" text-anchor="end" fill="#333" >Nucleotide transport and metabolism</text>
<text x="446.2" y="138.51" font-size="4.55" text-anchor="end" fill="#333" >Secondary metabolites biosynthesis, transport and catabolism</text>
<text x="446.2" y="145.33" font-size="4.55" text-anchor="end" fill="#333" >Defense mechanisms</text>
<text x="446.2" y="152.15" font-size="4.55" text-anchor="end" fill="#333" >Cytoskeleton</text>
<text x="446.2" y="158.97" font-size="4.55" text-anchor="end" fill="#333" >Chromatin structure and dynamics</text>
<text x="446.2" y="165.79" font-size="4.55" text-anchor="end" fill="#333" >RNA processing and modification</text>
<text x="446.2" y="172.61" font-size="4.55" text-anchor="end" fill="#333" >Energy production and conversion</text>
<text x="446.2" y="179.43" font-size="4.55" text-anchor="end" fill="#333" >Cell wall/membrane/envelope biogenesis</text>
<text x="446.2" y="186.25" font-size="4.55" text-anchor="end" fill="#333" >Cell cycle control, cell division, chromosome partitioning</text>
<path d="M446.9 47.95H448.6M446.9 54.77H448.6M446.9 61.59H448.6M446.9 68.41H448.6M446.9 75.23H448.6M446.9 82.05H448.6M446.9 88.87H448.6M446.9 95.69H448.6M446.9 102.51H448.6M446.9 109.33H448.6M446.9 116.15H448.6M446.9 122.97H448.6M446.9 129.79H448.6M446.9 136.61H448.6M446.9 143.43H448.6M446.9 150.25H448.6M446.9 157.07H448.6M446.9 163.89H448.6M446.9 170.71H448.6M446.9 177.53H448.6M446.9 184.35H448.6" stroke="#333" stroke-width=".45"/>
<text x="496.4" y="200.8" font-size="5.5" text-anchor="middle" fill="#000" >Freq</text>
<text transform="translate(318.6 115.5) rotate(-90)" font-size="5.5" text-anchor="middle" fill="#000">Terms</text>
<rect x="114.5" y="225.4" width="63.8" height="8.1" fill="#d9d9d9" stroke="#333" stroke-width=".45"/>
<text x="146.4" y="230.95" font-size="4.1" text-anchor="middle" fill="#000" >down−regulated</text>
<path d="M114.5 233.5H178.3V423.2H114.5" fill="#fff" stroke="#333" stroke-width=".45"/>
<circle cx="155.8" cy="247.36" r="1.8" fill="#0b5345"/>
<circle cx="154.6" cy="252.29" r="1.8" fill="#0b5345"/>
<circle cx="147" cy="257.22" r="1.8" fill="#0b5345"/>
<circle cx="146.1" cy="262.15" r="1.8" fill="#0b5547"/>
<circle cx="145.3" cy="267.08" r="1.8" fill="#0b5345"/>
<circle cx="142.7" cy="291.73" r="1.8" fill="#0c5a4a"/>
<circle cx="140.7" cy="301.59" r="1.6" fill="#0d6050"/>
<circle cx="132.6" cy="326.24" r="2.3" fill="#0c5a4a"/>
<circle cx="130.3" cy="336.1" r="2.3" fill="#0b5345"/>
<circle cx="130.2" cy="341.03" r="2.3" fill="#0d6050"/>
<circle cx="130" cy="350.89" r="2.3" fill="#0e6b58"/>
<circle cx="127" cy="370.61" r="2.8" fill="#0b5345"/>
<circle cx="125.4" cy="375.54" r="2.8" fill="#0f7463"/>
<circle cx="125.4" cy="380.47" r="2.8" fill="#0f7463"/>
<circle cx="124.3" cy="385.4" r="3" fill="#0b5345"/>
<circle cx="124.3" cy="390.33" r="3" fill="#0f7463"/>
<circle cx="123.8" cy="395.26" r="3.2" fill="#0b5345"/>
<circle cx="123.8" cy="414.98" r="3" fill="#0f7463"/>
<circle cx="123.8" cy="419.91" r="3.2" fill="#0b5345"/>
<text x="118.6" y="429.3" font-size="4.1" text-anchor="middle" fill="#4d4d4d" >0</text>
<text x="129.5" y="429.3" font-size="4.1" text-anchor="middle" fill="#4d4d4d" >1</text>
<text x="140.4" y="429.3" font-size="4.1" text-anchor="middle" fill="#4d4d4d" >2</text>
<text x="151.3" y="429.3" font-size="4.1" text-anchor="middle" fill="#4d4d4d" >3</text>
<text x="162.2" y="429.3" font-size="4.1" text-anchor="middle" fill="#4d4d4d" >4</text>
<text x="173.1" y="429.3" font-size="4.1" text-anchor="middle" fill="#4d4d4d" >5</text>
<path d="M118.6 423.2v1.2M129.5 423.2v1.2M140.4 423.2v1.2M151.3 423.2v1.2M162.2 423.2v1.2M173.1 423.2v1.2" stroke="#333" stroke-width=".45"/>
<rect x="181.3" y="225.4" width="63.3" height="8.1" fill="#d9d9d9" stroke="#333" stroke-width=".45"/>
<text x="212.95" y="230.95" font-size="4.1" text-anchor="middle" fill="#000" >up−regulated</text>
<rect x="181.3" y="233.5" width="63.3" height="189.7" fill="#fff" stroke="#333" stroke-width=".45"/>
<circle cx="236.3" cy="237.5" r="1.4" fill="#0e8a78"/>
<circle cx="232.5" cy="242.43" r="1.4" fill="#d2eee8"/>
<circle cx="211.9" cy="272.01" r="1.8" fill="#2ab5a5"/>
<circle cx="211.9" cy="276.94" r="1.8" fill="#30b5a5"/>
<circle cx="211.6" cy="281.87" r="1.8" fill="#5cc0b0"/>
<circle cx="210.2" cy="286.8" r="1.8" fill="#0b5c4c"/>
<circle cx="208.5" cy="296.66" r="1.8" fill="#1a9a88"/>
<circle cx="206.7" cy="306.52" r="1.8" fill="#128a78"/>
<circle cx="206.2" cy="311.45" r="1.8" fill="#0a5a48"/>
<circle cx="204.1" cy="316.38" r="1.8" fill="#0e7a68"/>
<circle cx="199.5" cy="321.31" r="2.2" fill="#0e7a68"/>
<circle cx="197.5" cy="331.17" r="2.3" fill="#0e8a78"/>
<circle cx="196.7" cy="345.96" r="2.3" fill="#0e7a68"/>
<circle cx="196.2" cy="355.82" r="2.3" fill="#0a5a48"/>
<circle cx="195.4" cy="360.75" r="2.3" fill="#128a78"/>
<circle cx="195.4" cy="365.68" r="2.3" fill="#128a78"/>
<circle cx="192.4" cy="370.61" r="2.5" fill="#0a5a48"/>
<circle cx="191.6" cy="380.47" r="2.8" fill="#128a78"/>
<circle cx="190.6" cy="400.19" r="3.2" fill="#128a78"/>
<circle cx="190.6" cy="405.12" r="3.2" fill="#0e7a68"/>
<circle cx="190.6" cy="410.05" r="3.2" fill="#128a78"/>
<text x="184.8" y="429.3" font-size="4.1" text-anchor="middle" fill="#4d4d4d" >0</text>
<text x="195.7" y="429.3" font-size="4.1" text-anchor="middle" fill="#4d4d4d" >1</text>
<text x="206.6" y="429.3" font-size="4.1" text-anchor="middle" fill="#4d4d4d" >2</text>
<text x="217.5" y="429.3" font-size="4.1" text-anchor="middle" fill="#4d4d4d" >3</text>
<text x="228.4" y="429.3" font-size="4.1" text-anchor="middle" fill="#4d4d4d" >4</text>
<text x="239.3" y="429.3" font-size="4.1" text-anchor="middle" fill="#4d4d4d" >5</text>
<path d="M184.8 423.2v1.2M195.7 423.2v1.2M206.6 423.2v1.2M217.5 423.2v1.2M228.4 423.2v1.2M239.3 423.2v1.2" stroke="#333" stroke-width=".45"/>
<text x="112.6" y="238.95" font-size="4.1" text-anchor="end" fill="#333" >regulation of cell−cell adhesion involved in gastrulation</text>
<text x="112.6" y="243.88" font-size="4.1" text-anchor="end" fill="#333" >negative regulation of lipase activity</text>
<text x="112.6" y="248.81" font-size="4.1" text-anchor="end" fill="#333" >cytoskeleton−dependent cytokinesis</text>
<text x="112.6" y="253.74" font-size="4.1" text-anchor="end" fill="#333" >cytokinesis</text>
<text x="112.6" y="258.67" font-size="4.1" text-anchor="end" fill="#333" >regulation of intrinsic apoptotic signaling pathway</text>
<text x="112.6" y="263.6" font-size="4.1" text-anchor="end" fill="#333" >cell division</text>
<text x="112.6" y="268.53" font-size="4.1" text-anchor="end" fill="#333" >regulation of lipid biosynthetic process</text>
<text x="112.6" y="273.46" font-size="4.1" text-anchor="end" fill="#333" >hemostasis</text>
<text x="112.6" y="278.39" font-size="4.1" text-anchor="end" fill="#333" >coagulation</text>
<text x="112.6" y="283.32" font-size="4.1" text-anchor="end" fill="#333" >negative regulation of immune effector process</text>
<text x="112.6" y="288.25" font-size="4.1" text-anchor="end" fill="#333" >inflammatory response</text>
<text x="112.6" y="293.18" font-size="4.1" text-anchor="end" fill="#333" >cellular response to chemical stress</text>
<text x="112.6" y="298.11" font-size="4.1" text-anchor="end" fill="#333" >wound healing</text>
<text x="112.6" y="303.04" font-size="4.1" text-anchor="end" fill="#333" >response to oxidative stress</text>
<text x="112.6" y="307.97" font-size="4.1" text-anchor="end" fill="#333" >negative regulation of cell adhesion</text>
<text x="112.6" y="312.9" font-size="4.1" text-anchor="end" fill="#333" >response to wounding</text>
<text x="112.6" y="317.83" font-size="4.1" text-anchor="end" fill="#333" >negative regulation of response to external stimulus</text>
<text x="112.6" y="322.76" font-size="4.1" text-anchor="end" fill="#333" >organophosphate metabolic process</text>
<text x="112.6" y="327.69" font-size="4.1" text-anchor="end" fill="#333" >chemical homeostasis</text>
<text x="112.6" y="332.62" font-size="4.1" text-anchor="end" fill="#333" >negative regulation of multicellular organismal process</text>
<text x="112.6" y="337.55" font-size="4.1" text-anchor="end" fill="#333" >homeostatic process</text>
<text x="112.6" y="342.48" font-size="4.1" text-anchor="end" fill="#333" >response to oxygen−containing compound</text>
<text x="112.6" y="347.41" font-size="4.1" text-anchor="end" fill="#333" >regulation of phosphorylation</text>
<text x="112.6" y="352.34" font-size="4.1" text-anchor="end" fill="#333" >cellular response to stress</text>
<text x="112.6" y="357.27" font-size="4.1" text-anchor="end" fill="#333" >negative regulation of response to stimulus</text>
<text x="112.6" y="362.2" font-size="4.1" text-anchor="end" fill="#333" >regulation of phosphorus metabolic process</text>
<text x="112.6" y="367.13" font-size="4.1" text-anchor="end" fill="#333" >regulation of phosphate metabolic process</text>
<text x="112.6" y="372.06" font-size="4.1" text-anchor="end" fill="#333" >response to stress</text>
<text x="112.6" y="376.99" font-size="4.1" text-anchor="end" fill="#333" >response to chemical</text>
<text x="112.6" y="381.92" font-size="4.1" text-anchor="end" fill="#333" >regulation of biological quality</text>
<text x="112.6" y="386.85" font-size="4.1" text-anchor="end" fill="#333" >primary metabolic process</text>
<text x="112.6" y="391.78" font-size="4.1" text-anchor="end" fill="#333" >positive regulation of cellular process</text>
<text x="112.6" y="396.71" font-size="4.1" text-anchor="end" fill="#333" >organic substance metabolic process</text>
<text x="112.6" y="401.64" font-size="4.1" text-anchor="end" fill="#333" >negative regulation of cellular process</text>
<text x="112.6" y="406.57" font-size="4.1" text-anchor="end" fill="#333" >negative regulation of biological process</text>
<text x="112.6" y="411.5" font-size="4.1" text-anchor="end" fill="#333" >cellular component organization</text>
<text x="112.6" y="416.43" font-size="4.1" text-anchor="end" fill="#333" >positive regulation of biological process</text>
<text x="112.6" y="421.36" font-size="4.1" text-anchor="end" fill="#333" >metabolic process</text>
<path d="M113.2 237.5H114.5M113.2 242.43H114.5M113.2 247.36H114.5M113.2 252.29H114.5M113.2 257.22H114.5M113.2 262.15H114.5M113.2 267.08H114.5M113.2 272.01H114.5M113.2 276.94H114.5M113.2 281.87H114.5M113.2 286.8H114.5M113.2 291.73H114.5M113.2 296.66H114.5M113.2 301.59H114.5M113.2 306.52H114.5M113.2 311.45H114.5M113.2 316.38H114.5M113.2 321.31H114.5M113.2 326.24H114.5M113.2 331.17H114.5M113.2 336.1H114.5M113.2 341.03H114.5M113.2 345.96H114.5M113.2 350.89H114.5M113.2 355.82H114.5M113.2 360.75H114.5M113.2 365.68H114.5M113.2 370.61H114.5M113.2 375.54H114.5M113.2 380.47H114.5M113.2 385.4H114.5M113.2 390.33H114.5M113.2 395.26H114.5M113.2 400.19H114.5M113.2 405.12H114.5M113.2 410.05H114.5M113.2 414.98H114.5M113.2 419.91H114.5" stroke="#222" stroke-width=".6"/>
<text x="180" y="435.6" font-size="5" text-anchor="middle" fill="#000" >log2(`Fold enrich`)</text>
<text transform="translate(10.6 327.7) rotate(-90)" font-size="5" text-anchor="middle" fill="#000">Terms</text>
<text x="250" y="295.6" font-size="4.6" text-anchor="start" fill="#000" >p.value</text>
<defs><linearGradient id="gd" x1="0" y1="0" x2="0" y2="1"><stop offset="0" stop-color="#e0f4f1"/><stop offset=".35" stop-color="#3dbfae"/><stop offset=".7" stop-color="#118a77"/><stop offset="1" stop-color="#0a4d3f"/></linearGradient></defs>
<rect x="250.9" y="299" width="6.3" height="32.2" fill="url(#gd)"/>
<text x="259.6" y="302.3" font-size="3.6" text-anchor="start" fill="#000" >4×10⁻⁴</text>
<text x="259.6" y="309.8" font-size="3.6" text-anchor="start" fill="#000" >3×10⁻⁴</text>
<text x="259.6" y="317.3" font-size="3.6" text-anchor="start" fill="#000" >2×10⁻⁴</text>
<text x="259.6" y="324.8" font-size="3.6" text-anchor="start" fill="#000" >1×10⁻⁴</text>
<text x="250" y="340.6" font-size="4.6" text-anchor="start" fill="#000" >mapping</text>
<circle cx="254.5" cy="347.1" r="1.8" fill="#000"/>
<text x="261.4" y="348.5" font-size="4" text-anchor="start" fill="#000" >25</text>
<circle cx="254.5" cy="353.9" r="2.3" fill="#000"/>
<text x="261.4" y="355.3" font-size="4" text-anchor="start" fill="#000" >50</text>
<circle cx="254.5" cy="361" r="2.8" fill="#000"/>
<text x="261.4" y="362.4" font-size="4" text-anchor="start" fill="#000" >75</text>
<rect x="380.3" y="225.8" width="66.1" height="7.9" fill="#d9d9d9" stroke="#333" stroke-width=".45"/>
<text x="413.35" y="231.25" font-size="4.2" text-anchor="middle" fill="#000" >down-regulated</text>
<rect x="380.3" y="233.7" width="66.1" height="189.3" fill="#fff" stroke="#333" stroke-width=".45"/>
<circle cx="437.4" cy="237.4" r="1.3" fill="#148a78"/>
<circle cx="434.2" cy="243.28" r="2.3" fill="#0a4a3c"/>
<circle cx="423" cy="260.92" r="1.3" fill="#25b5a5"/>
<circle cx="422.5" cy="266.8" r="2.3" fill="#0a4a3c"/>
<circle cx="422.2" cy="272.68" r="1.3" fill="#40c0b0"/>
<circle cx="421" cy="278.56" r="1.2" fill="#60c8bc"/>
<circle cx="420.8" cy="284.44" r="2" fill="#138070"/>
<circle cx="420" cy="290.32" r="2" fill="#137a68"/>
<circle cx="418.3" cy="296.2" r="2" fill="#137a68"/>
<circle cx="418.3" cy="302.08" r="1.2" fill="#d0f0ea"/>
<circle cx="412.1" cy="313.84" r="3" fill="#0a4035"/>
<circle cx="411.2" cy="325.6" r="2.5" fill="#138070"/>
<circle cx="410.5" cy="337.36" r="2.5" fill="#138070"/>
<circle cx="410.5" cy="343.24" r="2.5" fill="#138070"/>
<circle cx="400.4" cy="378.52" r="2.3" fill="#50c4bc"/>
<text x="387.2" y="429.2" font-size="4.1" text-anchor="middle" fill="#4d4d4d" >1</text>
<text x="408" y="429.2" font-size="4.1" text-anchor="middle" fill="#4d4d4d" >2</text>
<text x="428.7" y="429.2" font-size="4.1" text-anchor="middle" fill="#4d4d4d" >3</text>
<path d="M387.2 423v1.2M408 423v1.2M428.7 423v1.2" stroke="#333" stroke-width=".45"/>
<rect x="449.4" y="225.8" width="67.1" height="7.9" fill="#d9d9d9" stroke="#333" stroke-width=".45"/>
<text x="482.95" y="231.25" font-size="4.2" text-anchor="middle" fill="#000" >up-regulated</text>
<rect x="449.4" y="233.7" width="67.1" height="189.3" fill="#fff" stroke="#333" stroke-width=".45"/>
<circle cx="497.6" cy="249.16" r="2.3" fill="#0a4a3c"/>
<circle cx="495.9" cy="255.04" r="3" fill="#0a4035"/>
<circle cx="483.5" cy="307.96" r="2.5" fill="#0a5040"/>
<circle cx="480.7" cy="319.72" r="1.8" fill="#15a898"/>
<circle cx="480.7" cy="331.48" r="2.3" fill="#0b6050"/>
<circle cx="478.6" cy="349.12" r="2.5" fill="#0d6a58"/>
<circle cx="475.6" cy="355" r="2.5" fill="#0e7a68"/>
<circle cx="475.6" cy="360.88" r="1.8" fill="#b8e6de"/>
<circle cx="474.5" cy="366.76" r="2.2" fill="#138070"/>
<circle cx="473.3" cy="372.64" r="2.2" fill="#128070"/>
<circle cx="470.1" cy="384.4" r="3" fill="#0b5c4c"/>
<circle cx="469.2" cy="390.28" r="3" fill="#0b6555"/>
<circle cx="466.7" cy="396.16" r="2.7" fill="#15a090"/>
<circle cx="466.7" cy="402.04" r="3" fill="#0e7a68"/>
<circle cx="465" cy="407.92" r="2.5" fill="#90d5cc"/>
<circle cx="464.1" cy="413.8" r="3" fill="#0e7a68"/>
<circle cx="458.8" cy="419.68" r="3" fill="#c0e8e2"/>
<text x="456.7" y="429.2" font-size="4.1" text-anchor="middle" fill="#4d4d4d" >1</text>
<text x="477.2" y="429.2" font-size="4.1" text-anchor="middle" fill="#4d4d4d" >2</text>
<text x="497.6" y="429.2" font-size="4.1" text-anchor="middle" fill="#4d4d4d" >3</text>
<path d="M456.7 423v1.2M477.2 423v1.2M497.6 423v1.2" stroke="#333" stroke-width=".45"/>
<text x="378.2" y="238.85" font-size="4.2" text-anchor="end" fill="#333" >Other glycan degradation</text>
<text x="378.2" y="244.73" font-size="4.2" text-anchor="end" fill="#333" >Nucleotide excision repair</text>
<text x="378.2" y="250.61" font-size="4.2" text-anchor="end" fill="#333" >Ferroptosis</text>
<text x="378.2" y="256.49" font-size="4.2" text-anchor="end" fill="#333" >Complement and coagulation cascades</text>
<text x="378.2" y="262.37" font-size="4.2" text-anchor="end" fill="#333" >RNA polymerase</text>
<text x="378.2" y="268.25" font-size="4.2" text-anchor="end" fill="#333" >Leishmaniasis</text>
<text x="378.2" y="274.13" font-size="4.2" text-anchor="end" fill="#333" >SNARE interactions in vesicular transport</text>
<text x="378.2" y="280.01" font-size="4.2" text-anchor="end" fill="#333" >beta-Alanine metabolism</text>
<text x="378.2" y="285.89" font-size="4.2" text-anchor="end" fill="#333" >Cholesterol metabolism</text>
<text x="378.2" y="291.77" font-size="4.2" text-anchor="end" fill="#333" >Sphingolipid metabolism</text>
<text x="378.2" y="297.65" font-size="4.2" text-anchor="end" fill="#333" >Mineral absorption</text>
<text x="378.2" y="303.53" font-size="4.2" text-anchor="end" fill="#333" >Biosynthesis of unsaturated fatty acids</text>
<text x="378.2" y="309.41" font-size="4.2" text-anchor="end" fill="#333" >Systemic lupus erythematosus</text>
<text x="378.2" y="315.29" font-size="4.2" text-anchor="end" fill="#333" >Lysosome</text>
<text x="378.2" y="321.17" font-size="4.2" text-anchor="end" fill="#333" >Pyrimidine metabolism</text>
<text x="378.2" y="327.05" font-size="4.2" text-anchor="end" fill="#333" >Peroxisome</text>
<text x="378.2" y="332.93" font-size="4.2" text-anchor="end" fill="#333" >PPAR signaling pathway</text>
<text x="378.2" y="338.81" font-size="4.2" text-anchor="end" fill="#333" >IL-17 signaling pathway</text>
<text x="378.2" y="344.69" font-size="4.2" text-anchor="end" fill="#333" >Aldosterone synthesis and secretion</text>
<text x="378.2" y="350.57" font-size="4.2" text-anchor="end" fill="#333" >Glycerophospholipid metabolism</text>
<text x="378.2" y="356.45" font-size="4.2" text-anchor="end" fill="#333" >Protein digestion and absorption</text>
<text x="378.2" y="362.33" font-size="4.2" text-anchor="end" fill="#333" >Antigen processing and presentation</text>
<text x="378.2" y="368.21" font-size="4.2" text-anchor="end" fill="#333" >Drug metabolism - other enzymes</text>
<text x="378.2" y="374.09" font-size="4.2" text-anchor="end" fill="#333" >Fc gamma R-mediated phagocytosis</text>
<text x="378.2" y="379.97" font-size="4.2" text-anchor="end" fill="#333" >Spliceosome</text>
<text x="378.2" y="385.85" font-size="4.2" text-anchor="end" fill="#333" >Alcoholism</text>
<text x="378.2" y="391.73" font-size="4.2" text-anchor="end" fill="#333" >Neutrophil extracellular trap formation</text>
<text x="378.2" y="397.61" font-size="4.2" text-anchor="end" fill="#333" >Phospholipase D signaling pathway</text>
<text x="378.2" y="403.49" font-size="4.2" text-anchor="end" fill="#333" >Axon guidance</text>
<text x="378.2" y="409.37" font-size="4.2" text-anchor="end" fill="#333" >Phagosome</text>
<text x="378.2" y="415.25" font-size="4.2" text-anchor="end" fill="#333" >Chemical carcinogenesis - reactive oxygen species</text>
<text x="378.2" y="421.13" font-size="4.2" text-anchor="end" fill="#333" >Parkinson disease</text>
<path d="M378.8 237.4H380.3M378.8 243.28H380.3M378.8 249.16H380.3M378.8 255.04H380.3M378.8 260.92H380.3M378.8 266.8H380.3M378.8 272.68H380.3M378.8 278.56H380.3M378.8 284.44H380.3M378.8 290.32H380.3M378.8 296.2H380.3M378.8 302.08H380.3M378.8 307.96H380.3M378.8 313.84H380.3M378.8 319.72H380.3M378.8 325.6H380.3M378.8 331.48H380.3M378.8 337.36H380.3M378.8 343.24H380.3M378.8 349.12H380.3M378.8 355H380.3M378.8 360.88H380.3M378.8 366.76H380.3M378.8 372.64H380.3M378.8 378.52H380.3M378.8 384.4H380.3M378.8 390.28H380.3M378.8 396.16H380.3M378.8 402.04H380.3M378.8 407.92H380.3M378.8 413.8H380.3M378.8 419.68H380.3" stroke="#222" stroke-width=".6"/>
<text x="448" y="435.5" font-size="5" text-anchor="middle" fill="#000" >log2(`Fold enrich`)</text>
<text transform="translate(281.2 327.5) rotate(-90)" font-size="5" text-anchor="middle" fill="#000">Terms</text>
<text x="521.4" y="280.6" font-size="4.6" text-anchor="start" fill="#000" >p.value</text>
<defs><linearGradient id="ge" x1="0" y1="0" x2="0" y2="1"><stop offset="0" stop-color="#dff3ef"/><stop offset=".35" stop-color="#3dbfae"/><stop offset=".7" stop-color="#118a77"/><stop offset="1" stop-color="#0a4d3f"/></linearGradient></defs>
<rect x="521.4" y="284.5" width="6.6" height="32.2" fill="url(#ge)"/>
<text x="530" y="291" font-size="4" text-anchor="start" fill="#000" >0.04</text>
<text x="530" y="298" font-size="4" text-anchor="start" fill="#000" >0.03</text>
<text x="530" y="304.9" font-size="4" text-anchor="start" fill="#000" >0.02</text>
<text x="530" y="311.6" font-size="4" text-anchor="start" fill="#000" >0.01</text>
<text x="521.4" y="326" font-size="4.6" text-anchor="start" fill="#000" >mapping</text>
<circle cx="525.6" cy="332.7" r="1.2" fill="#000"/>
<text x="533.3" y="334.1" font-size="4" text-anchor="start" fill="#000" >2</text>
<circle cx="525.6" cy="339.4" r="2" fill="#000"/>
<text x="533.3" y="340.8" font-size="4" text-anchor="start" fill="#000" >3</text>
<circle cx="525.6" cy="346" r="2.5" fill="#000"/>
<text x="533.3" y="347.4" font-size="4" text-anchor="start" fill="#000" >4</text>
<circle cx="525.6" cy="352.6" r="2.8" fill="#000"/>
<text x="533.3" y="354" font-size="4" text-anchor="start" fill="#000" >5</text>
<circle cx="525.6" cy="359.5" r="3" fill="#000"/>
<text x="533.3" y="360.9" font-size="4" text-anchor="start" fill="#000" >6</text>
<circle cx="525.6" cy="367.5" r="3.3" fill="#000"/>
<text x="533.3" y="368.9" font-size="4" text-anchor="start" fill="#000" >7</text>
<circle cx="525.6" cy="375.8" r="3.6" fill="#000"/>
<text x="533.3" y="377.2" font-size="4" text-anchor="start" fill="#000" >8</text>
</svg></div></div></body></html>
